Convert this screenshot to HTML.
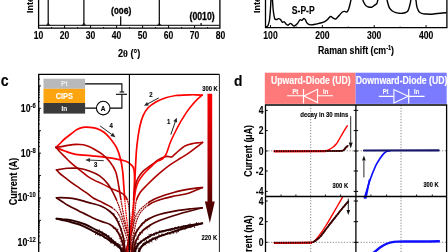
<!DOCTYPE html>
<html><head><meta charset="utf-8"><style>
html,body{margin:0;padding:0;background:#fff;overflow:hidden;}
svg{display:block;font-family:"Liberation Sans",Arial,sans-serif;}
</style></head><body>
<svg width="448" height="252" viewBox="0 0 448 252">
<rect width="448" height="252" fill="#fff"/>
<line x1="39.10" y1="25.30" x2="219.40" y2="25.30" stroke="#000" stroke-width="1.0" />
<line x1="48.20" y1="-2.00" x2="48.20" y2="25.60" stroke="#000" stroke-width="1.2" />
<path d="M46.00,25.4 Q47.80,25.1 48.20,23.2 Q48.60,25.1 50.40,25.4" fill="none" stroke="#000" stroke-width="0.8"/>
<line x1="83.90" y1="-2.00" x2="83.90" y2="25.60" stroke="#000" stroke-width="1.2" />
<path d="M81.70,25.4 Q83.50,25.1 83.90,23.2 Q84.30,25.1 86.10,25.4" fill="none" stroke="#000" stroke-width="0.8"/>
<line x1="120.70" y1="16.30" x2="120.70" y2="25.60" stroke="#000" stroke-width="1.2" />
<line x1="159.30" y1="-2.00" x2="159.30" y2="25.60" stroke="#000" stroke-width="1.2" />
<path d="M157.10,25.4 Q158.90,25.1 159.30,23.2 Q159.70,25.1 161.50,25.4" fill="none" stroke="#000" stroke-width="0.8"/>
<line x1="201.10" y1="23.00" x2="201.10" y2="25.60" stroke="#000" stroke-width="1.2" />
<path d="M38.6,-2 V28.1 H219.9 V-2" fill="none" stroke="#000" stroke-width="1.3"/>
<line x1="51.60" y1="28.10" x2="51.60" y2="27.00" stroke="#000" stroke-width="1.0" />
<line x1="64.60" y1="28.10" x2="64.60" y2="25.50" stroke="#000" stroke-width="1.0" />
<line x1="77.60" y1="28.10" x2="77.60" y2="27.00" stroke="#000" stroke-width="1.0" />
<line x1="90.60" y1="28.10" x2="90.60" y2="25.50" stroke="#000" stroke-width="1.0" />
<line x1="103.60" y1="28.10" x2="103.60" y2="27.00" stroke="#000" stroke-width="1.0" />
<line x1="116.60" y1="28.10" x2="116.60" y2="25.50" stroke="#000" stroke-width="1.0" />
<line x1="129.60" y1="28.10" x2="129.60" y2="27.00" stroke="#000" stroke-width="1.0" />
<line x1="142.60" y1="28.10" x2="142.60" y2="25.50" stroke="#000" stroke-width="1.0" />
<line x1="155.60" y1="28.10" x2="155.60" y2="27.00" stroke="#000" stroke-width="1.0" />
<line x1="168.60" y1="28.10" x2="168.60" y2="25.50" stroke="#000" stroke-width="1.0" />
<line x1="181.60" y1="28.10" x2="181.60" y2="27.00" stroke="#000" stroke-width="1.0" />
<line x1="194.60" y1="28.10" x2="194.60" y2="25.50" stroke="#000" stroke-width="1.0" />
<line x1="207.60" y1="28.10" x2="207.60" y2="27.00" stroke="#000" stroke-width="1.0" />
<text transform="translate(38.50,39.00) scale(0.86,1)" font-size="10.0" text-anchor="middle" font-weight="bold" fill="#000" stroke="#000" stroke-width="0.12" >10</text>
<text transform="translate(64.50,39.00) scale(0.86,1)" font-size="10.0" text-anchor="middle" font-weight="bold" fill="#000" stroke="#000" stroke-width="0.12" >20</text>
<text transform="translate(90.50,39.00) scale(0.86,1)" font-size="10.0" text-anchor="middle" font-weight="bold" fill="#000" stroke="#000" stroke-width="0.12" >30</text>
<text transform="translate(116.50,39.00) scale(0.86,1)" font-size="10.0" text-anchor="middle" font-weight="bold" fill="#000" stroke="#000" stroke-width="0.12" >40</text>
<text transform="translate(142.50,39.00) scale(0.86,1)" font-size="10.0" text-anchor="middle" font-weight="bold" fill="#000" stroke="#000" stroke-width="0.12" >50</text>
<text transform="translate(168.50,39.00) scale(0.86,1)" font-size="10.0" text-anchor="middle" font-weight="bold" fill="#000" stroke="#000" stroke-width="0.12" >60</text>
<text transform="translate(194.50,39.00) scale(0.86,1)" font-size="10.0" text-anchor="middle" font-weight="bold" fill="#000" stroke="#000" stroke-width="0.12" >70</text>
<text transform="translate(220.50,39.00) scale(0.86,1)" font-size="10.0" text-anchor="middle" font-weight="bold" fill="#000" stroke="#000" stroke-width="0.12" >80</text>
<text transform="translate(121.25,14.10) scale(0.88,1)" font-size="9.9" text-anchor="middle" font-weight="bold" fill="#000" stroke="#000" stroke-width="0.3" >(006)</text>
<text transform="translate(202.10,19.90) scale(0.86,1)" font-size="10.1" text-anchor="middle" font-weight="bold" fill="#000" stroke="#000" stroke-width="0.3" >(0010)</text>
<text transform="translate(129.10,56.70) scale(0.9,1)" font-size="10.2" text-anchor="middle" font-weight="bold" fill="#000" stroke="#000" stroke-width="0.12" >2<tspan font-family="Liberation Serif">θ</tspan> (°)</text>
<text transform="translate(32.60,12.90) rotate(-90) scale(0.95,1)" font-size="9.3" text-anchor="start" font-weight="bold" fill="#000" stroke="#000" stroke-width="0.12" >Intensity (a.u.)</text>
<path d="M266.20,26.80 C266.50,26.58 267.45,26.63 268.00,25.50 C268.55,24.37 269.08,22.92 269.50,20.00 C269.92,17.08 270.22,11.83 270.50,8.00 C270.78,4.17 270.92,-1.17 271.20,-3.00 C271.48,-4.83 271.87,-5.17 272.20,-3.00 C272.53,-0.83 272.78,6.42 273.20,10.00 C273.62,13.58 274.15,16.92 274.70,18.50 C275.25,20.08 275.87,19.48 276.50,19.50 C277.13,19.52 277.83,18.60 278.50,18.60 C279.17,18.60 279.87,18.90 280.50,19.50 C281.13,20.10 281.68,21.82 282.30,22.20 C282.92,22.58 283.58,21.50 284.20,21.80 C284.82,22.10 285.37,23.43 286.00,24.00 C286.63,24.57 287.25,25.30 288.00,25.20 C288.75,25.10 289.75,23.43 290.50,23.40 C291.25,23.37 291.87,24.57 292.50,25.00 C293.13,25.43 293.47,26.25 294.30,26.00 C295.13,25.75 296.55,24.55 297.50,23.50 C298.45,22.45 299.25,20.23 300.00,19.70 C300.75,19.17 301.35,20.52 302.00,20.30 C302.65,20.08 303.32,18.45 303.90,18.40 C304.48,18.35 304.98,19.25 305.50,20.00 C306.02,20.75 306.22,22.10 307.00,22.90 C307.78,23.70 308.70,24.60 310.20,24.80 C311.70,25.00 313.77,24.53 316.00,24.10 C318.23,23.67 321.68,22.97 323.60,22.20 C325.52,21.43 326.35,20.45 327.50,19.50 C328.65,18.55 329.58,16.75 330.50,16.50 C331.42,16.25 332.15,17.58 333.00,18.00 C333.85,18.42 334.77,19.20 335.60,19.00 C336.43,18.80 337.27,17.53 338.00,16.80 C338.73,16.07 339.28,15.40 340.00,14.60 C340.72,13.80 341.58,12.53 342.30,12.00 C343.02,11.47 343.55,11.40 344.30,11.40 C345.05,11.40 346.07,12.42 346.80,12.00 C347.53,11.58 348.12,10.40 348.70,8.90 C349.28,7.40 349.83,4.98 350.30,3.00 C350.77,1.02 351.30,-2.00 351.50,-3.00" fill="none" stroke="#000" stroke-width="1.4" stroke-linejoin="round" stroke-linecap="round" />
<path d="M362.20,-3.00 C362.37,-2.33 362.80,-0.13 363.20,1.00 C363.60,2.13 364.13,3.00 364.60,3.80 C365.07,4.60 365.37,5.27 366.00,5.80 C366.63,6.33 367.47,6.77 368.40,7.00 C369.33,7.23 370.67,7.42 371.60,7.20 C372.53,6.98 373.17,6.27 374.00,5.70 C374.83,5.13 376.00,4.58 376.60,3.80 C377.20,3.02 377.32,2.13 377.60,1.00 C377.88,-0.13 378.18,-2.33 378.30,-3.00" fill="none" stroke="#000" stroke-width="1.4" stroke-linejoin="round" stroke-linecap="round" />
<path d="M386.60,-3.00 C386.75,-2.17 387.05,0.23 387.50,2.00 C387.95,3.77 388.55,6.13 389.30,7.60 C390.05,9.07 390.92,9.95 392.00,10.80 C393.08,11.65 394.63,12.30 395.80,12.70 C396.97,13.10 397.93,13.10 399.00,13.20 C400.07,13.30 401.12,13.42 402.20,13.30 C403.28,13.18 404.55,12.92 405.50,12.50 C406.45,12.08 407.22,11.88 407.90,10.80 C408.58,9.72 409.15,7.55 409.60,6.00 C410.05,4.45 410.32,3.00 410.60,1.50 C410.88,0.00 411.18,-2.25 411.30,-3.00" fill="none" stroke="#000" stroke-width="1.4" stroke-linejoin="round" stroke-linecap="round" />
<path d="M415.50,-3.00 C415.62,-2.17 415.98,0.45 416.20,2.00 C416.42,3.55 416.50,5.00 416.80,6.30 C417.10,7.60 417.58,8.85 418.00,9.80 C418.42,10.75 418.55,11.35 419.30,12.00 C420.05,12.65 421.38,13.37 422.50,13.70 C423.62,14.03 424.75,13.92 426.00,14.00 C427.25,14.08 428.50,14.23 430.00,14.20 C431.50,14.17 433.28,13.95 435.00,13.80 C436.72,13.65 438.47,13.48 440.30,13.30 C442.13,13.12 445.05,12.80 446.00,12.70" fill="none" stroke="#000" stroke-width="1.4" stroke-linejoin="round" stroke-linecap="round" />
<path d="M265.5,-2 V27.7 H446.9 V-2" fill="none" stroke="#000" stroke-width="1.3"/>
<line x1="270.50" y1="27.70" x2="270.50" y2="25.10" stroke="#000" stroke-width="1.0" />
<line x1="296.43" y1="27.70" x2="296.43" y2="26.60" stroke="#000" stroke-width="1.0" />
<line x1="322.35" y1="27.70" x2="322.35" y2="25.10" stroke="#000" stroke-width="1.0" />
<line x1="348.27" y1="27.70" x2="348.27" y2="26.60" stroke="#000" stroke-width="1.0" />
<line x1="374.20" y1="27.70" x2="374.20" y2="25.10" stroke="#000" stroke-width="1.0" />
<line x1="400.12" y1="27.70" x2="400.12" y2="26.60" stroke="#000" stroke-width="1.0" />
<line x1="426.05" y1="27.70" x2="426.05" y2="25.10" stroke="#000" stroke-width="1.0" />
<text transform="translate(270.50,39.30) scale(0.86,1)" font-size="10.0" text-anchor="middle" font-weight="bold" fill="#000" stroke="#000" stroke-width="0.12" >100</text>
<text transform="translate(322.35,39.30) scale(0.86,1)" font-size="10.0" text-anchor="middle" font-weight="bold" fill="#000" stroke="#000" stroke-width="0.12" >200</text>
<text transform="translate(374.20,39.30) scale(0.86,1)" font-size="10.0" text-anchor="middle" font-weight="bold" fill="#000" stroke="#000" stroke-width="0.12" >300</text>
<text transform="translate(426.05,39.30) scale(0.86,1)" font-size="10.0" text-anchor="middle" font-weight="bold" fill="#000" stroke="#000" stroke-width="0.12" >400</text>
<text transform="translate(356.00,54.00) scale(0.86,1)" font-size="10.2" text-anchor="middle" font-weight="bold" fill="#000" stroke="#000" stroke-width="0.12" >Raman shift (cm<tspan font-size="6.5" dy="-3.6">-1</tspan><tspan dy="3.6">)</tspan></text>
<text transform="translate(303.25,14.00) scale(0.86,1)" font-size="10.0" text-anchor="middle" font-weight="bold" fill="#000" stroke="#000" stroke-width="0.12" >S-P-P</text>
<text transform="translate(260.30,12.90) rotate(-90) scale(0.95,1)" font-size="9.3" text-anchor="start" font-weight="bold" fill="#000" stroke="#000" stroke-width="0.12" >Intensity (a.u.)</text>
<text transform="translate(0.80,85.70) scale(0.86,1)" font-size="16.5" text-anchor="start" font-weight="bold" fill="#000" stroke="#000" stroke-width="0.12" >c</text>
<defs><clipPath id="cTop"><rect x="0" y="0" width="448" height="200"/></clipPath><clipPath id="cBot"><rect x="0" y="200" width="448" height="70"/></clipPath><clipPath id="cMid"><rect x="112" y="0" width="36" height="260"/></clipPath><clipPath id="cOut"><path d="M0,0 H112 V260 H0 Z M148,0 H448 V260 H148 Z"/></clipPath></defs>
<g clip-path="url(#cTop)"><path d="M56.00,147.40 C56.67,146.75 58.58,144.90 60.00,143.50 C61.42,142.10 62.67,140.58 64.50,139.00 C66.33,137.42 68.92,135.57 71.00,134.00 C73.08,132.43 75.00,130.70 77.00,129.60 C79.00,128.50 80.83,127.77 83.00,127.40 C85.17,127.03 87.67,127.20 90.00,127.40 C92.33,127.60 94.67,127.80 97.00,128.60 C99.33,129.40 101.83,130.60 104.00,132.20 C106.17,133.80 107.88,135.58 110.00,138.20 C112.12,140.82 114.92,144.30 116.70,147.90 C118.48,151.50 119.70,155.83 120.70,159.80 C121.70,163.77 122.18,167.33 122.70,171.70 C123.22,176.07 123.45,181.28 123.80,186.00 C124.15,190.72 124.40,195.17 124.80,200.00 C125.20,204.83 125.62,209.83 126.20,215.00 C126.78,220.17 127.58,226.00 128.30,231.00 C129.02,236.00 129.97,241.33 130.50,245.00 C131.03,248.67 131.33,251.67 131.50,253.00" fill="none" stroke="#ff0000" stroke-width="1.7" stroke-linejoin="round" stroke-linecap="round" /></g>
<g clip-path="url(#cBot)"><g clip-path="url(#cOut)"><path d="M56.00,147.40 C56.67,146.75 58.58,144.90 60.00,143.50 C61.42,142.10 62.67,140.58 64.50,139.00 C66.33,137.42 68.92,135.57 71.00,134.00 C73.08,132.43 75.00,130.70 77.00,129.60 C79.00,128.50 80.83,127.77 83.00,127.40 C85.17,127.03 87.67,127.20 90.00,127.40 C92.33,127.60 94.67,127.80 97.00,128.60 C99.33,129.40 101.83,130.60 104.00,132.20 C106.17,133.80 107.88,135.58 110.00,138.20 C112.12,140.82 114.92,144.30 116.70,147.90 C118.48,151.50 119.70,155.83 120.70,159.80 C121.70,163.77 122.18,167.33 122.70,171.70 C123.22,176.07 123.45,181.28 123.80,186.00 C124.15,190.72 124.40,195.17 124.80,200.00 C125.20,204.83 125.62,209.83 126.20,215.00 C126.78,220.17 127.58,226.00 128.30,231.00 C129.02,236.00 129.97,241.33 130.50,245.00 C131.03,248.67 131.33,251.67 131.50,253.00" fill="none" stroke="#ff0000" stroke-width="1.7" stroke-linejoin="round" stroke-linecap="round" /></g></g>
<g clip-path="url(#cBot)"><g clip-path="url(#cMid)"><path d="M56.00,147.40 C56.67,146.75 58.58,144.90 60.00,143.50 C61.42,142.10 62.67,140.58 64.50,139.00 C66.33,137.42 68.92,135.57 71.00,134.00 C73.08,132.43 75.00,130.70 77.00,129.60 C79.00,128.50 80.83,127.77 83.00,127.40 C85.17,127.03 87.67,127.20 90.00,127.40 C92.33,127.60 94.67,127.80 97.00,128.60 C99.33,129.40 101.83,130.60 104.00,132.20 C106.17,133.80 107.88,135.58 110.00,138.20 C112.12,140.82 114.92,144.30 116.70,147.90 C118.48,151.50 119.70,155.83 120.70,159.80 C121.70,163.77 122.18,167.33 122.70,171.70 C123.22,176.07 123.45,181.28 123.80,186.00 C124.15,190.72 124.40,195.17 124.80,200.00 C125.20,204.83 125.62,209.83 126.20,215.00 C126.78,220.17 127.58,226.00 128.30,231.00 C129.02,236.00 129.97,241.33 130.50,245.00 C131.03,248.67 131.33,251.67 131.50,253.00" fill="none" stroke="#ff0000" stroke-width="1.2" stroke-linejoin="round" stroke-linecap="butt" stroke-dasharray="1.8,0.6"/></g></g>
<g clip-path="url(#cTop)"><path d="M56.00,147.40 C57.45,148.00 61.40,149.85 64.70,151.00 C68.00,152.15 71.25,153.50 75.80,154.30 C80.35,155.10 87.97,155.42 92.00,155.80 C96.03,156.18 96.05,156.10 100.00,156.60 C103.95,157.10 111.37,158.02 115.70,158.80 C120.03,159.58 123.42,160.30 126.00,161.30 C128.58,162.30 129.88,163.48 131.20,164.80 C132.52,166.12 133.33,166.67 133.90,169.20 C134.47,171.73 134.55,175.70 134.60,180.00 C134.65,184.30 134.47,189.67 134.20,195.00 C133.93,200.33 133.53,206.00 133.00,212.00 C132.47,218.00 131.70,225.50 131.00,231.00 C130.30,236.50 129.33,241.33 128.80,245.00 C128.27,248.67 127.97,251.67 127.80,253.00" fill="none" stroke="#ff0000" stroke-width="1.7" stroke-linejoin="round" stroke-linecap="round" /></g>
<g clip-path="url(#cBot)"><g clip-path="url(#cOut)"><path d="M56.00,147.40 C57.45,148.00 61.40,149.85 64.70,151.00 C68.00,152.15 71.25,153.50 75.80,154.30 C80.35,155.10 87.97,155.42 92.00,155.80 C96.03,156.18 96.05,156.10 100.00,156.60 C103.95,157.10 111.37,158.02 115.70,158.80 C120.03,159.58 123.42,160.30 126.00,161.30 C128.58,162.30 129.88,163.48 131.20,164.80 C132.52,166.12 133.33,166.67 133.90,169.20 C134.47,171.73 134.55,175.70 134.60,180.00 C134.65,184.30 134.47,189.67 134.20,195.00 C133.93,200.33 133.53,206.00 133.00,212.00 C132.47,218.00 131.70,225.50 131.00,231.00 C130.30,236.50 129.33,241.33 128.80,245.00 C128.27,248.67 127.97,251.67 127.80,253.00" fill="none" stroke="#ff0000" stroke-width="1.7" stroke-linejoin="round" stroke-linecap="round" /></g></g>
<g clip-path="url(#cBot)"><g clip-path="url(#cMid)"><path d="M56.00,147.40 C57.45,148.00 61.40,149.85 64.70,151.00 C68.00,152.15 71.25,153.50 75.80,154.30 C80.35,155.10 87.97,155.42 92.00,155.80 C96.03,156.18 96.05,156.10 100.00,156.60 C103.95,157.10 111.37,158.02 115.70,158.80 C120.03,159.58 123.42,160.30 126.00,161.30 C128.58,162.30 129.88,163.48 131.20,164.80 C132.52,166.12 133.33,166.67 133.90,169.20 C134.47,171.73 134.55,175.70 134.60,180.00 C134.65,184.30 134.47,189.67 134.20,195.00 C133.93,200.33 133.53,206.00 133.00,212.00 C132.47,218.00 131.70,225.50 131.00,231.00 C130.30,236.50 129.33,241.33 128.80,245.00 C128.27,248.67 127.97,251.67 127.80,253.00" fill="none" stroke="#ff0000" stroke-width="1.2" stroke-linejoin="round" stroke-linecap="butt" stroke-dasharray="1.8,0.6"/></g></g>
<g clip-path="url(#cTop)"><path d="M202.20,95.10 C201.17,95.05 198.12,94.85 196.00,94.80 C193.88,94.75 192.17,94.72 189.50,94.80 C186.83,94.88 182.30,95.18 180.00,95.30 C177.70,95.42 178.07,95.08 175.70,95.50 C173.33,95.92 169.10,96.72 165.80,97.80 C162.50,98.88 158.88,100.30 155.90,102.00 C152.92,103.70 150.05,105.70 147.90,108.00 C145.75,110.30 144.32,112.85 143.00,115.80 C141.68,118.75 140.83,122.17 140.00,125.70 C139.17,129.23 138.58,132.95 138.00,137.00 C137.42,141.05 136.90,145.33 136.50,150.00 C136.10,154.67 135.88,160.00 135.60,165.00 C135.32,170.00 135.10,174.67 134.80,180.00 C134.50,185.33 134.20,191.67 133.80,197.00 C133.40,202.33 133.00,206.33 132.40,212.00 C131.80,217.67 131.03,225.50 130.20,231.00 C129.37,236.50 128.10,241.33 127.40,245.00 C126.70,248.67 126.23,251.67 126.00,253.00" fill="none" stroke="#ff0000" stroke-width="1.7" stroke-linejoin="round" stroke-linecap="round" /></g>
<g clip-path="url(#cBot)"><g clip-path="url(#cOut)"><path d="M202.20,95.10 C201.17,95.05 198.12,94.85 196.00,94.80 C193.88,94.75 192.17,94.72 189.50,94.80 C186.83,94.88 182.30,95.18 180.00,95.30 C177.70,95.42 178.07,95.08 175.70,95.50 C173.33,95.92 169.10,96.72 165.80,97.80 C162.50,98.88 158.88,100.30 155.90,102.00 C152.92,103.70 150.05,105.70 147.90,108.00 C145.75,110.30 144.32,112.85 143.00,115.80 C141.68,118.75 140.83,122.17 140.00,125.70 C139.17,129.23 138.58,132.95 138.00,137.00 C137.42,141.05 136.90,145.33 136.50,150.00 C136.10,154.67 135.88,160.00 135.60,165.00 C135.32,170.00 135.10,174.67 134.80,180.00 C134.50,185.33 134.20,191.67 133.80,197.00 C133.40,202.33 133.00,206.33 132.40,212.00 C131.80,217.67 131.03,225.50 130.20,231.00 C129.37,236.50 128.10,241.33 127.40,245.00 C126.70,248.67 126.23,251.67 126.00,253.00" fill="none" stroke="#ff0000" stroke-width="1.7" stroke-linejoin="round" stroke-linecap="round" /></g></g>
<g clip-path="url(#cBot)"><g clip-path="url(#cMid)"><path d="M202.20,95.10 C201.17,95.05 198.12,94.85 196.00,94.80 C193.88,94.75 192.17,94.72 189.50,94.80 C186.83,94.88 182.30,95.18 180.00,95.30 C177.70,95.42 178.07,95.08 175.70,95.50 C173.33,95.92 169.10,96.72 165.80,97.80 C162.50,98.88 158.88,100.30 155.90,102.00 C152.92,103.70 150.05,105.70 147.90,108.00 C145.75,110.30 144.32,112.85 143.00,115.80 C141.68,118.75 140.83,122.17 140.00,125.70 C139.17,129.23 138.58,132.95 138.00,137.00 C137.42,141.05 136.90,145.33 136.50,150.00 C136.10,154.67 135.88,160.00 135.60,165.00 C135.32,170.00 135.10,174.67 134.80,180.00 C134.50,185.33 134.20,191.67 133.80,197.00 C133.40,202.33 133.00,206.33 132.40,212.00 C131.80,217.67 131.03,225.50 130.20,231.00 C129.37,236.50 128.10,241.33 127.40,245.00 C126.70,248.67 126.23,251.67 126.00,253.00" fill="none" stroke="#ff0000" stroke-width="1.2" stroke-linejoin="round" stroke-linecap="butt" stroke-dasharray="1.8,0.6"/></g></g>
<g clip-path="url(#cTop)"><path d="M56.00,147.40 C56.92,147.27 58.73,147.07 61.50,146.60 C64.27,146.13 69.52,144.95 72.60,144.60 C75.68,144.25 77.77,144.37 80.00,144.50 C82.23,144.63 84.02,144.83 86.00,145.40 C87.98,145.97 89.27,146.48 91.90,147.90 C94.53,149.32 98.82,151.58 101.80,153.90 C104.78,156.22 107.48,158.83 109.80,161.80 C112.12,164.77 114.22,167.67 115.70,171.70 C117.18,175.73 117.82,181.28 118.70,186.00 C119.58,190.72 120.18,195.17 121.00,200.00 C121.82,204.83 122.57,209.83 123.60,215.00 C124.63,220.17 126.05,226.00 127.20,231.00 C128.35,236.00 129.70,241.33 130.50,245.00 C131.30,248.67 131.75,251.67 132.00,253.00" fill="none" stroke="#b00000" stroke-width="1.6" stroke-linejoin="round" stroke-linecap="round" /></g>
<g clip-path="url(#cBot)"><g clip-path="url(#cOut)"><path d="M56.00,147.40 C56.92,147.27 58.73,147.07 61.50,146.60 C64.27,146.13 69.52,144.95 72.60,144.60 C75.68,144.25 77.77,144.37 80.00,144.50 C82.23,144.63 84.02,144.83 86.00,145.40 C87.98,145.97 89.27,146.48 91.90,147.90 C94.53,149.32 98.82,151.58 101.80,153.90 C104.78,156.22 107.48,158.83 109.80,161.80 C112.12,164.77 114.22,167.67 115.70,171.70 C117.18,175.73 117.82,181.28 118.70,186.00 C119.58,190.72 120.18,195.17 121.00,200.00 C121.82,204.83 122.57,209.83 123.60,215.00 C124.63,220.17 126.05,226.00 127.20,231.00 C128.35,236.00 129.70,241.33 130.50,245.00 C131.30,248.67 131.75,251.67 132.00,253.00" fill="none" stroke="#b00000" stroke-width="1.6" stroke-linejoin="round" stroke-linecap="round" /></g></g>
<g clip-path="url(#cBot)"><g clip-path="url(#cMid)"><path d="M56.00,147.40 C56.92,147.27 58.73,147.07 61.50,146.60 C64.27,146.13 69.52,144.95 72.60,144.60 C75.68,144.25 77.77,144.37 80.00,144.50 C82.23,144.63 84.02,144.83 86.00,145.40 C87.98,145.97 89.27,146.48 91.90,147.90 C94.53,149.32 98.82,151.58 101.80,153.90 C104.78,156.22 107.48,158.83 109.80,161.80 C112.12,164.77 114.22,167.67 115.70,171.70 C117.18,175.73 117.82,181.28 118.70,186.00 C119.58,190.72 120.18,195.17 121.00,200.00 C121.82,204.83 122.57,209.83 123.60,215.00 C124.63,220.17 126.05,226.00 127.20,231.00 C128.35,236.00 129.70,241.33 130.50,245.00 C131.30,248.67 131.75,251.67 132.00,253.00" fill="none" stroke="#b00000" stroke-width="1.2" stroke-linejoin="round" stroke-linecap="butt" stroke-dasharray="1.8,0.6"/></g></g>
<g clip-path="url(#cTop)"><path d="M56.00,147.40 C56.67,148.17 58.55,150.47 60.00,152.00 C61.45,153.53 63.05,154.95 64.70,156.60 C66.35,158.25 67.37,159.63 69.90,161.90 C72.43,164.17 76.88,167.75 79.90,170.20 C82.92,172.65 85.48,174.87 88.00,176.60 C90.52,178.33 92.62,179.38 95.00,180.60 C97.38,181.82 99.42,182.52 102.30,183.90 C105.18,185.28 109.20,187.45 112.30,188.90 C115.40,190.35 118.70,191.33 120.90,192.60 C123.10,193.87 124.28,194.77 125.50,196.50 C126.72,198.23 127.48,199.92 128.20,203.00 C128.92,206.08 129.40,210.33 129.80,215.00 C130.20,219.67 130.37,226.00 130.60,231.00 C130.83,236.00 131.05,241.33 131.20,245.00 C131.35,248.67 131.45,251.67 131.50,253.00" fill="none" stroke="#b00000" stroke-width="1.6" stroke-linejoin="round" stroke-linecap="round" /></g>
<g clip-path="url(#cBot)"><g clip-path="url(#cOut)"><path d="M56.00,147.40 C56.67,148.17 58.55,150.47 60.00,152.00 C61.45,153.53 63.05,154.95 64.70,156.60 C66.35,158.25 67.37,159.63 69.90,161.90 C72.43,164.17 76.88,167.75 79.90,170.20 C82.92,172.65 85.48,174.87 88.00,176.60 C90.52,178.33 92.62,179.38 95.00,180.60 C97.38,181.82 99.42,182.52 102.30,183.90 C105.18,185.28 109.20,187.45 112.30,188.90 C115.40,190.35 118.70,191.33 120.90,192.60 C123.10,193.87 124.28,194.77 125.50,196.50 C126.72,198.23 127.48,199.92 128.20,203.00 C128.92,206.08 129.40,210.33 129.80,215.00 C130.20,219.67 130.37,226.00 130.60,231.00 C130.83,236.00 131.05,241.33 131.20,245.00 C131.35,248.67 131.45,251.67 131.50,253.00" fill="none" stroke="#b00000" stroke-width="1.6" stroke-linejoin="round" stroke-linecap="round" /></g></g>
<g clip-path="url(#cBot)"><g clip-path="url(#cMid)"><path d="M56.00,147.40 C56.67,148.17 58.55,150.47 60.00,152.00 C61.45,153.53 63.05,154.95 64.70,156.60 C66.35,158.25 67.37,159.63 69.90,161.90 C72.43,164.17 76.88,167.75 79.90,170.20 C82.92,172.65 85.48,174.87 88.00,176.60 C90.52,178.33 92.62,179.38 95.00,180.60 C97.38,181.82 99.42,182.52 102.30,183.90 C105.18,185.28 109.20,187.45 112.30,188.90 C115.40,190.35 118.70,191.33 120.90,192.60 C123.10,193.87 124.28,194.77 125.50,196.50 C126.72,198.23 127.48,199.92 128.20,203.00 C128.92,206.08 129.40,210.33 129.80,215.00 C130.20,219.67 130.37,226.00 130.60,231.00 C130.83,236.00 131.05,241.33 131.20,245.00 C131.35,248.67 131.45,251.67 131.50,253.00" fill="none" stroke="#b00000" stroke-width="1.2" stroke-linejoin="round" stroke-linecap="butt" stroke-dasharray="1.8,0.6"/></g></g>
<g clip-path="url(#cTop)"><path d="M202.60,142.40 C201.67,142.48 198.62,142.72 197.00,142.90 C195.38,143.08 194.83,143.03 192.90,143.50 C190.97,143.97 187.37,144.80 185.40,145.70 C183.43,146.60 182.35,147.93 181.10,148.90 C179.85,149.87 179.15,150.43 177.90,151.50 C176.65,152.57 174.67,154.38 173.60,155.30 C172.53,156.22 172.57,156.82 171.50,157.00 C170.43,157.18 168.63,156.32 167.20,156.40 C165.77,156.48 164.33,156.97 162.90,157.50 C161.47,158.03 160.03,158.72 158.60,159.60 C157.17,160.48 155.73,161.73 154.30,162.80 C152.87,163.87 151.80,164.65 150.00,166.00 C148.20,167.35 145.47,168.92 143.50,170.90 C141.53,172.88 139.52,175.57 138.20,177.90 C136.88,180.23 136.23,182.22 135.60,184.90 C134.97,187.58 134.77,189.48 134.40,194.00 C134.03,198.52 133.93,205.83 133.40,212.00 C132.87,218.17 132.13,225.50 131.20,231.00 C130.27,236.50 128.60,241.33 127.80,245.00 C127.00,248.67 126.63,251.67 126.40,253.00" fill="none" stroke="#b00000" stroke-width="1.6" stroke-linejoin="round" stroke-linecap="round" /></g>
<g clip-path="url(#cBot)"><g clip-path="url(#cOut)"><path d="M202.60,142.40 C201.67,142.48 198.62,142.72 197.00,142.90 C195.38,143.08 194.83,143.03 192.90,143.50 C190.97,143.97 187.37,144.80 185.40,145.70 C183.43,146.60 182.35,147.93 181.10,148.90 C179.85,149.87 179.15,150.43 177.90,151.50 C176.65,152.57 174.67,154.38 173.60,155.30 C172.53,156.22 172.57,156.82 171.50,157.00 C170.43,157.18 168.63,156.32 167.20,156.40 C165.77,156.48 164.33,156.97 162.90,157.50 C161.47,158.03 160.03,158.72 158.60,159.60 C157.17,160.48 155.73,161.73 154.30,162.80 C152.87,163.87 151.80,164.65 150.00,166.00 C148.20,167.35 145.47,168.92 143.50,170.90 C141.53,172.88 139.52,175.57 138.20,177.90 C136.88,180.23 136.23,182.22 135.60,184.90 C134.97,187.58 134.77,189.48 134.40,194.00 C134.03,198.52 133.93,205.83 133.40,212.00 C132.87,218.17 132.13,225.50 131.20,231.00 C130.27,236.50 128.60,241.33 127.80,245.00 C127.00,248.67 126.63,251.67 126.40,253.00" fill="none" stroke="#b00000" stroke-width="1.6" stroke-linejoin="round" stroke-linecap="round" /></g></g>
<g clip-path="url(#cBot)"><g clip-path="url(#cMid)"><path d="M202.60,142.40 C201.67,142.48 198.62,142.72 197.00,142.90 C195.38,143.08 194.83,143.03 192.90,143.50 C190.97,143.97 187.37,144.80 185.40,145.70 C183.43,146.60 182.35,147.93 181.10,148.90 C179.85,149.87 179.15,150.43 177.90,151.50 C176.65,152.57 174.67,154.38 173.60,155.30 C172.53,156.22 172.57,156.82 171.50,157.00 C170.43,157.18 168.63,156.32 167.20,156.40 C165.77,156.48 164.33,156.97 162.90,157.50 C161.47,158.03 160.03,158.72 158.60,159.60 C157.17,160.48 155.73,161.73 154.30,162.80 C152.87,163.87 151.80,164.65 150.00,166.00 C148.20,167.35 145.47,168.92 143.50,170.90 C141.53,172.88 139.52,175.57 138.20,177.90 C136.88,180.23 136.23,182.22 135.60,184.90 C134.97,187.58 134.77,189.48 134.40,194.00 C134.03,198.52 133.93,205.83 133.40,212.00 C132.87,218.17 132.13,225.50 131.20,231.00 C130.27,236.50 128.60,241.33 127.80,245.00 C127.00,248.67 126.63,251.67 126.40,253.00" fill="none" stroke="#b00000" stroke-width="1.2" stroke-linejoin="round" stroke-linecap="butt" stroke-dasharray="1.8,0.6"/></g></g>
<g clip-path="url(#cTop)"><path d="M202.60,142.40 C201.70,143.12 199.53,144.90 197.20,146.70 C194.87,148.50 191.47,151.23 188.60,153.20 C185.73,155.17 182.85,156.72 180.00,158.50 C177.15,160.28 174.35,161.93 171.50,163.90 C168.65,165.87 165.77,167.98 162.90,170.30 C160.03,172.62 156.95,175.35 154.30,177.80 C151.65,180.25 149.30,182.63 147.00,185.00 C144.70,187.37 142.25,189.50 140.50,192.00 C138.75,194.50 137.48,196.33 136.50,200.00 C135.52,203.67 135.32,208.83 134.60,214.00 C133.88,219.17 133.17,225.83 132.20,231.00 C131.23,236.17 129.57,241.33 128.80,245.00 C128.03,248.67 127.80,251.67 127.60,253.00" fill="none" stroke="#b00000" stroke-width="1.6" stroke-linejoin="round" stroke-linecap="round" /></g>
<g clip-path="url(#cBot)"><g clip-path="url(#cOut)"><path d="M202.60,142.40 C201.70,143.12 199.53,144.90 197.20,146.70 C194.87,148.50 191.47,151.23 188.60,153.20 C185.73,155.17 182.85,156.72 180.00,158.50 C177.15,160.28 174.35,161.93 171.50,163.90 C168.65,165.87 165.77,167.98 162.90,170.30 C160.03,172.62 156.95,175.35 154.30,177.80 C151.65,180.25 149.30,182.63 147.00,185.00 C144.70,187.37 142.25,189.50 140.50,192.00 C138.75,194.50 137.48,196.33 136.50,200.00 C135.52,203.67 135.32,208.83 134.60,214.00 C133.88,219.17 133.17,225.83 132.20,231.00 C131.23,236.17 129.57,241.33 128.80,245.00 C128.03,248.67 127.80,251.67 127.60,253.00" fill="none" stroke="#b00000" stroke-width="1.6" stroke-linejoin="round" stroke-linecap="round" /></g></g>
<g clip-path="url(#cBot)"><g clip-path="url(#cMid)"><path d="M202.60,142.40 C201.70,143.12 199.53,144.90 197.20,146.70 C194.87,148.50 191.47,151.23 188.60,153.20 C185.73,155.17 182.85,156.72 180.00,158.50 C177.15,160.28 174.35,161.93 171.50,163.90 C168.65,165.87 165.77,167.98 162.90,170.30 C160.03,172.62 156.95,175.35 154.30,177.80 C151.65,180.25 149.30,182.63 147.00,185.00 C144.70,187.37 142.25,189.50 140.50,192.00 C138.75,194.50 137.48,196.33 136.50,200.00 C135.52,203.67 135.32,208.83 134.60,214.00 C133.88,219.17 133.17,225.83 132.20,231.00 C131.23,236.17 129.57,241.33 128.80,245.00 C128.03,248.67 127.80,251.67 127.60,253.00" fill="none" stroke="#b00000" stroke-width="1.2" stroke-linejoin="round" stroke-linecap="butt" stroke-dasharray="1.8,0.6"/></g></g>
<g clip-path="url(#cTop)"><path d="M202.20,95.10 C201.42,95.77 199.35,97.25 197.50,99.10 C195.65,100.95 192.97,103.95 191.10,106.20 C189.23,108.45 187.75,110.48 186.30,112.60 C184.85,114.72 183.45,117.18 182.40,118.90 C181.35,120.62 181.12,120.88 180.00,122.90 C178.88,124.92 177.28,127.82 175.70,131.00 C174.12,134.18 172.10,138.13 170.50,142.00 C168.90,145.87 167.43,151.38 166.10,154.20 C164.77,157.02 163.93,157.73 162.50,158.90 C161.07,160.07 159.17,160.13 157.50,161.20 C155.83,162.27 154.08,163.90 152.50,165.30 C150.92,166.70 149.67,167.90 148.00,169.60 C146.33,171.30 144.08,173.52 142.50,175.50 C140.92,177.48 139.62,179.25 138.50,181.50 C137.38,183.75 136.52,185.92 135.80,189.00 C135.08,192.08 134.70,195.67 134.20,200.00 C133.70,204.33 133.40,209.83 132.80,215.00 C132.20,220.17 131.40,226.00 130.60,231.00 C129.80,236.00 128.60,241.33 128.00,245.00 C127.40,248.67 127.17,251.67 127.00,253.00" fill="none" stroke="#ff0000" stroke-width="1.6" stroke-linejoin="round" stroke-linecap="round" /></g>
<g clip-path="url(#cBot)"><g clip-path="url(#cOut)"><path d="M202.20,95.10 C201.42,95.77 199.35,97.25 197.50,99.10 C195.65,100.95 192.97,103.95 191.10,106.20 C189.23,108.45 187.75,110.48 186.30,112.60 C184.85,114.72 183.45,117.18 182.40,118.90 C181.35,120.62 181.12,120.88 180.00,122.90 C178.88,124.92 177.28,127.82 175.70,131.00 C174.12,134.18 172.10,138.13 170.50,142.00 C168.90,145.87 167.43,151.38 166.10,154.20 C164.77,157.02 163.93,157.73 162.50,158.90 C161.07,160.07 159.17,160.13 157.50,161.20 C155.83,162.27 154.08,163.90 152.50,165.30 C150.92,166.70 149.67,167.90 148.00,169.60 C146.33,171.30 144.08,173.52 142.50,175.50 C140.92,177.48 139.62,179.25 138.50,181.50 C137.38,183.75 136.52,185.92 135.80,189.00 C135.08,192.08 134.70,195.67 134.20,200.00 C133.70,204.33 133.40,209.83 132.80,215.00 C132.20,220.17 131.40,226.00 130.60,231.00 C129.80,236.00 128.60,241.33 128.00,245.00 C127.40,248.67 127.17,251.67 127.00,253.00" fill="none" stroke="#ff0000" stroke-width="1.6" stroke-linejoin="round" stroke-linecap="round" /></g></g>
<g clip-path="url(#cBot)"><g clip-path="url(#cMid)"><path d="M202.20,95.10 C201.42,95.77 199.35,97.25 197.50,99.10 C195.65,100.95 192.97,103.95 191.10,106.20 C189.23,108.45 187.75,110.48 186.30,112.60 C184.85,114.72 183.45,117.18 182.40,118.90 C181.35,120.62 181.12,120.88 180.00,122.90 C178.88,124.92 177.28,127.82 175.70,131.00 C174.12,134.18 172.10,138.13 170.50,142.00 C168.90,145.87 167.43,151.38 166.10,154.20 C164.77,157.02 163.93,157.73 162.50,158.90 C161.07,160.07 159.17,160.13 157.50,161.20 C155.83,162.27 154.08,163.90 152.50,165.30 C150.92,166.70 149.67,167.90 148.00,169.60 C146.33,171.30 144.08,173.52 142.50,175.50 C140.92,177.48 139.62,179.25 138.50,181.50 C137.38,183.75 136.52,185.92 135.80,189.00 C135.08,192.08 134.70,195.67 134.20,200.00 C133.70,204.33 133.40,209.83 132.80,215.00 C132.20,220.17 131.40,226.00 130.60,231.00 C129.80,236.00 128.60,241.33 128.00,245.00 C127.40,248.67 127.17,251.67 127.00,253.00" fill="none" stroke="#ff0000" stroke-width="1.2" stroke-linejoin="round" stroke-linecap="butt" stroke-dasharray="1.8,0.6"/></g></g>
<g clip-path="url(#cTop)"><path d="M56.50,169.80 C57.08,169.73 58.17,169.65 60.00,169.40 C61.83,169.15 64.43,168.48 67.50,168.30 C70.57,168.12 74.77,167.87 78.40,168.30 C82.03,168.73 85.75,169.65 89.30,170.90 C92.85,172.15 96.63,173.65 99.70,175.80 C102.77,177.95 105.38,180.82 107.70,183.80 C110.02,186.78 111.80,190.17 113.60,193.70 C115.40,197.23 117.02,200.95 118.50,205.00 C119.98,209.05 121.17,213.67 122.50,218.00 C123.83,222.33 125.25,226.67 126.50,231.00 C127.75,235.33 129.22,240.33 130.00,244.00 C130.78,247.67 131.00,251.50 131.20,253.00" fill="none" stroke="#900000" stroke-width="1.6" stroke-linejoin="round" stroke-linecap="round" /></g>
<g clip-path="url(#cBot)"><g clip-path="url(#cOut)"><path d="M56.50,169.80 C57.08,169.73 58.17,169.65 60.00,169.40 C61.83,169.15 64.43,168.48 67.50,168.30 C70.57,168.12 74.77,167.87 78.40,168.30 C82.03,168.73 85.75,169.65 89.30,170.90 C92.85,172.15 96.63,173.65 99.70,175.80 C102.77,177.95 105.38,180.82 107.70,183.80 C110.02,186.78 111.80,190.17 113.60,193.70 C115.40,197.23 117.02,200.95 118.50,205.00 C119.98,209.05 121.17,213.67 122.50,218.00 C123.83,222.33 125.25,226.67 126.50,231.00 C127.75,235.33 129.22,240.33 130.00,244.00 C130.78,247.67 131.00,251.50 131.20,253.00" fill="none" stroke="#900000" stroke-width="1.6" stroke-linejoin="round" stroke-linecap="round" /></g></g>
<g clip-path="url(#cBot)"><g clip-path="url(#cMid)"><path d="M56.50,169.80 C57.08,169.73 58.17,169.65 60.00,169.40 C61.83,169.15 64.43,168.48 67.50,168.30 C70.57,168.12 74.77,167.87 78.40,168.30 C82.03,168.73 85.75,169.65 89.30,170.90 C92.85,172.15 96.63,173.65 99.70,175.80 C102.77,177.95 105.38,180.82 107.70,183.80 C110.02,186.78 111.80,190.17 113.60,193.70 C115.40,197.23 117.02,200.95 118.50,205.00 C119.98,209.05 121.17,213.67 122.50,218.00 C123.83,222.33 125.25,226.67 126.50,231.00 C127.75,235.33 129.22,240.33 130.00,244.00 C130.78,247.67 131.00,251.50 131.20,253.00" fill="none" stroke="#900000" stroke-width="1.2" stroke-linejoin="round" stroke-linecap="butt" stroke-dasharray="1.8,0.6"/></g></g>
<g clip-path="url(#cTop)"><path d="M56.50,169.80 C57.08,170.43 58.10,171.93 60.00,173.60 C61.90,175.27 65.25,177.78 67.90,179.80 C70.55,181.82 72.92,183.60 75.90,185.70 C78.88,187.80 82.85,190.32 85.80,192.40 C88.75,194.48 90.85,196.53 93.60,198.20 C96.35,199.87 99.82,201.17 102.30,202.40 C104.78,203.63 106.60,204.52 108.50,205.60 C110.40,206.68 112.15,207.67 113.70,208.90 C115.25,210.13 116.55,211.15 117.80,213.00 C119.05,214.85 120.07,217.00 121.20,220.00 C122.33,223.00 123.47,227.17 124.60,231.00 C125.73,234.83 127.17,239.33 128.00,243.00 C128.83,246.67 129.33,251.33 129.60,253.00" fill="none" stroke="#900000" stroke-width="1.6" stroke-linejoin="round" stroke-linecap="round" /></g>
<g clip-path="url(#cBot)"><g clip-path="url(#cOut)"><path d="M56.50,169.80 C57.08,170.43 58.10,171.93 60.00,173.60 C61.90,175.27 65.25,177.78 67.90,179.80 C70.55,181.82 72.92,183.60 75.90,185.70 C78.88,187.80 82.85,190.32 85.80,192.40 C88.75,194.48 90.85,196.53 93.60,198.20 C96.35,199.87 99.82,201.17 102.30,202.40 C104.78,203.63 106.60,204.52 108.50,205.60 C110.40,206.68 112.15,207.67 113.70,208.90 C115.25,210.13 116.55,211.15 117.80,213.00 C119.05,214.85 120.07,217.00 121.20,220.00 C122.33,223.00 123.47,227.17 124.60,231.00 C125.73,234.83 127.17,239.33 128.00,243.00 C128.83,246.67 129.33,251.33 129.60,253.00" fill="none" stroke="#900000" stroke-width="1.6" stroke-linejoin="round" stroke-linecap="round" /></g></g>
<g clip-path="url(#cBot)"><g clip-path="url(#cMid)"><path d="M56.50,169.80 C57.08,170.43 58.10,171.93 60.00,173.60 C61.90,175.27 65.25,177.78 67.90,179.80 C70.55,181.82 72.92,183.60 75.90,185.70 C78.88,187.80 82.85,190.32 85.80,192.40 C88.75,194.48 90.85,196.53 93.60,198.20 C96.35,199.87 99.82,201.17 102.30,202.40 C104.78,203.63 106.60,204.52 108.50,205.60 C110.40,206.68 112.15,207.67 113.70,208.90 C115.25,210.13 116.55,211.15 117.80,213.00 C119.05,214.85 120.07,217.00 121.20,220.00 C122.33,223.00 123.47,227.17 124.60,231.00 C125.73,234.83 127.17,239.33 128.00,243.00 C128.83,246.67 129.33,251.33 129.60,253.00" fill="none" stroke="#900000" stroke-width="1.2" stroke-linejoin="round" stroke-linecap="butt" stroke-dasharray="1.8,0.6"/></g></g>
<g clip-path="url(#cTop)"><path d="M202.40,187.60 C201.33,187.68 198.23,187.85 196.00,188.10 C193.77,188.35 191.50,188.68 189.00,189.10 C186.50,189.52 183.43,190.08 181.00,190.60 C178.57,191.12 177.07,191.47 174.40,192.20 C171.73,192.93 167.82,194.07 165.00,195.00 C162.18,195.93 160.00,196.72 157.50,197.80 C155.00,198.88 152.18,200.18 150.00,201.50 C147.82,202.82 146.23,204.12 144.40,205.70 C142.57,207.28 140.53,208.95 139.00,211.00 C137.47,213.05 136.20,215.17 135.20,218.00 C134.20,220.83 133.87,224.67 133.00,228.00 C132.13,231.33 131.03,234.83 130.00,238.00 C128.97,241.17 127.50,244.50 126.80,247.00 C126.10,249.50 125.97,252.00 125.80,253.00" fill="none" stroke="#900000" stroke-width="1.6" stroke-linejoin="round" stroke-linecap="round" /></g>
<g clip-path="url(#cBot)"><g clip-path="url(#cOut)"><path d="M202.40,187.60 C201.33,187.68 198.23,187.85 196.00,188.10 C193.77,188.35 191.50,188.68 189.00,189.10 C186.50,189.52 183.43,190.08 181.00,190.60 C178.57,191.12 177.07,191.47 174.40,192.20 C171.73,192.93 167.82,194.07 165.00,195.00 C162.18,195.93 160.00,196.72 157.50,197.80 C155.00,198.88 152.18,200.18 150.00,201.50 C147.82,202.82 146.23,204.12 144.40,205.70 C142.57,207.28 140.53,208.95 139.00,211.00 C137.47,213.05 136.20,215.17 135.20,218.00 C134.20,220.83 133.87,224.67 133.00,228.00 C132.13,231.33 131.03,234.83 130.00,238.00 C128.97,241.17 127.50,244.50 126.80,247.00 C126.10,249.50 125.97,252.00 125.80,253.00" fill="none" stroke="#900000" stroke-width="1.6" stroke-linejoin="round" stroke-linecap="round" /></g></g>
<g clip-path="url(#cBot)"><g clip-path="url(#cMid)"><path d="M202.40,187.60 C201.33,187.68 198.23,187.85 196.00,188.10 C193.77,188.35 191.50,188.68 189.00,189.10 C186.50,189.52 183.43,190.08 181.00,190.60 C178.57,191.12 177.07,191.47 174.40,192.20 C171.73,192.93 167.82,194.07 165.00,195.00 C162.18,195.93 160.00,196.72 157.50,197.80 C155.00,198.88 152.18,200.18 150.00,201.50 C147.82,202.82 146.23,204.12 144.40,205.70 C142.57,207.28 140.53,208.95 139.00,211.00 C137.47,213.05 136.20,215.17 135.20,218.00 C134.20,220.83 133.87,224.67 133.00,228.00 C132.13,231.33 131.03,234.83 130.00,238.00 C128.97,241.17 127.50,244.50 126.80,247.00 C126.10,249.50 125.97,252.00 125.80,253.00" fill="none" stroke="#900000" stroke-width="1.2" stroke-linejoin="round" stroke-linecap="butt" stroke-dasharray="1.8,0.6"/></g></g>
<g clip-path="url(#cTop)"><path d="M202.40,187.60 C200.83,188.23 195.67,190.37 193.00,191.40 C190.33,192.43 188.73,193.17 186.40,193.80 C184.07,194.43 181.42,194.73 179.00,195.20 C176.58,195.67 174.40,196.07 171.90,196.60 C169.40,197.13 166.40,197.73 164.00,198.40 C161.60,199.07 159.83,199.67 157.50,200.60 C155.17,201.53 152.18,202.72 150.00,204.00 C147.82,205.28 146.15,206.63 144.40,208.30 C142.65,209.97 140.87,211.72 139.50,214.00 C138.13,216.28 137.12,219.00 136.20,222.00 C135.28,225.00 134.87,228.83 134.00,232.00 C133.13,235.17 131.93,238.17 131.00,241.00 C130.07,243.83 128.93,247.00 128.40,249.00 C127.87,251.00 127.90,252.33 127.80,253.00" fill="none" stroke="#900000" stroke-width="1.6" stroke-linejoin="round" stroke-linecap="round" /></g>
<g clip-path="url(#cBot)"><g clip-path="url(#cOut)"><path d="M202.40,187.60 C200.83,188.23 195.67,190.37 193.00,191.40 C190.33,192.43 188.73,193.17 186.40,193.80 C184.07,194.43 181.42,194.73 179.00,195.20 C176.58,195.67 174.40,196.07 171.90,196.60 C169.40,197.13 166.40,197.73 164.00,198.40 C161.60,199.07 159.83,199.67 157.50,200.60 C155.17,201.53 152.18,202.72 150.00,204.00 C147.82,205.28 146.15,206.63 144.40,208.30 C142.65,209.97 140.87,211.72 139.50,214.00 C138.13,216.28 137.12,219.00 136.20,222.00 C135.28,225.00 134.87,228.83 134.00,232.00 C133.13,235.17 131.93,238.17 131.00,241.00 C130.07,243.83 128.93,247.00 128.40,249.00 C127.87,251.00 127.90,252.33 127.80,253.00" fill="none" stroke="#900000" stroke-width="1.6" stroke-linejoin="round" stroke-linecap="round" /></g></g>
<g clip-path="url(#cBot)"><g clip-path="url(#cMid)"><path d="M202.40,187.60 C200.83,188.23 195.67,190.37 193.00,191.40 C190.33,192.43 188.73,193.17 186.40,193.80 C184.07,194.43 181.42,194.73 179.00,195.20 C176.58,195.67 174.40,196.07 171.90,196.60 C169.40,197.13 166.40,197.73 164.00,198.40 C161.60,199.07 159.83,199.67 157.50,200.60 C155.17,201.53 152.18,202.72 150.00,204.00 C147.82,205.28 146.15,206.63 144.40,208.30 C142.65,209.97 140.87,211.72 139.50,214.00 C138.13,216.28 137.12,219.00 136.20,222.00 C135.28,225.00 134.87,228.83 134.00,232.00 C133.13,235.17 131.93,238.17 131.00,241.00 C130.07,243.83 128.93,247.00 128.40,249.00 C127.87,251.00 127.90,252.33 127.80,253.00" fill="none" stroke="#900000" stroke-width="1.2" stroke-linejoin="round" stroke-linecap="butt" stroke-dasharray="1.8,0.6"/></g></g>
<path d="M56.50,197.80 C57.08,197.77 58.47,197.60 60.00,197.60 C61.53,197.60 63.00,197.55 65.70,197.80 C68.40,198.05 72.48,198.33 76.20,199.10 C79.92,199.87 83.88,201.25 88.00,202.40 C92.12,203.55 97.33,204.57 100.90,206.00 C104.47,207.43 106.97,209.08 109.40,211.00 C111.83,212.92 113.70,214.83 115.50,217.50 C117.30,220.17 118.85,223.42 120.20,227.00 C121.55,230.58 122.77,234.67 123.60,239.00 C124.43,243.33 124.93,250.67 125.20,253.00" fill="none" stroke="#520000" stroke-width="1.7" stroke-linejoin="round" stroke-linecap="round" />
<path d="M112.28,213.15 l0.56,0.25 M113.19,213.51 l-0.06,-0.19 M113.81,214.15 l-0.01,-0.66 M113.93,215.22 l0.75,-0.56 M114.50,215.91 l-0.59,-0.49 M115.32,216.47 l-0.23,0.58 M115.40,217.57 l0.19,0.59 M116.65,217.94 l-0.69,-0.24 M117.04,218.89 l0.74,-0.20 M116.61,220.29 l0.63,0.10 M117.34,221.06 l0.26,0.06 M118.65,221.61 l0.89,-0.27 M118.22,222.99 l0.15,-0.16 M118.80,223.93 l0.10,-0.17 M118.93,225.07 l-0.41,-0.21 M119.68,225.98 l-0.05,0.31 M119.86,227.13 l0.45,0.38 M121.18,227.89 l0.17,0.20 M121.52,229.03 l0.02,-0.32 M121.12,230.43 l-0.57,0.06 M121.16,231.69 l0.40,0.13 M121.95,232.76 l-0.17,-0.02 M121.91,234.07 l-0.96,-0.00 M122.50,235.24 l0.96,0.12 M122.83,236.48 l-1.08,0.17 M123.68,237.64 l0.25,0.08 M124.35,238.87 l0.08,-0.12 M124.45,240.29 l0.98,0.10 M124.65,241.82 l0.56,-0.02 M123.67,243.56 l0.93,-0.00 M124.37,245.14 l-0.85,0.08 M124.03,246.81 l0.49,-0.01 M124.99,248.29 l-0.86,0.10 M125.45,249.72 l0.72,-0.04 M125.44,251.02 l0.03,0.03 M125.49,252.12 l1.10,-0.01" stroke="#520000" stroke-width="0.8" stroke-linecap="round" fill="none"/>
<path d="M56.50,197.80 C57.42,198.42 60.03,200.20 62.00,201.50 C63.97,202.80 65.50,204.03 68.30,205.60 C71.10,207.17 74.87,208.93 78.80,210.90 C82.73,212.87 88.03,215.62 91.90,217.40 C95.77,219.18 98.98,220.43 102.00,221.60 C105.02,222.77 107.67,223.08 110.00,224.40 C112.33,225.72 114.23,227.33 116.00,229.50 C117.77,231.67 119.40,234.82 120.60,237.40 C121.80,239.98 122.60,242.40 123.20,245.00 C123.80,247.60 124.03,251.67 124.20,253.00" fill="none" stroke="#520000" stroke-width="1.7" stroke-linejoin="round" stroke-linecap="round" />
<path d="M112.74,225.98 l-0.09,0.80 M113.01,226.86 l-0.02,0.21 M113.60,227.35 l0.69,0.66 M114.04,228.00 l-0.60,0.47 M115.05,228.15 l0.17,-0.59 M115.30,229.00 l0.75,-0.61 M116.37,229.21 l0.60,-0.21 M117.11,229.76 l0.91,-0.44 M117.57,230.56 l0.26,-0.57 M117.04,231.99 l-0.22,-0.40 M118.38,232.27 l0.30,-0.14 M119.04,233.00 l-0.68,0.54 M119.02,234.10 l0.03,-0.42 M119.98,234.68 l0.31,-0.23 M119.36,236.02 l0.68,-0.46 M119.57,236.92 l-0.06,-0.33 M120.54,237.43 l0.97,0.04 M120.24,238.47 l-0.75,0.18 M121.63,238.79 l0.28,-0.27 M121.17,239.84 l-0.07,0.23 M122.12,240.35 l0.59,0.24 M121.39,241.44 l-0.75,0.22 M121.88,242.09 l-0.51,-0.17 M122.57,242.71 l0.31,-0.28 M123.55,243.27 l0.48,-0.13 M122.71,244.30 l-0.99,-0.02 M122.52,245.14 l-1.07,0.22 M123.58,245.78 l0.62,-0.09 M124.00,246.63 l0.66,0.05 M123.01,247.70 l-0.76,0.00 M123.52,248.58 l-0.67,-0.09 M123.61,249.50 l-0.91,0.07 M123.55,250.39 l0.05,-0.06 M123.56,251.22 l0.37,0.07 M123.34,251.98 l0.23,-0.01 M123.44,252.60 l-0.50,-0.07" stroke="#520000" stroke-width="0.8" stroke-linecap="round" fill="none"/>
<path d="M202.20,207.80 C200.17,207.97 193.95,208.37 190.00,208.80 C186.05,209.23 182.17,209.82 178.50,210.40 C174.83,210.98 171.07,211.67 168.00,212.30 C164.93,212.93 162.77,213.38 160.10,214.20 C157.43,215.02 154.62,215.93 152.00,217.20 C149.38,218.47 146.65,219.92 144.40,221.80 C142.15,223.68 140.17,226.05 138.50,228.50 C136.83,230.95 135.35,233.92 134.40,236.50 C133.45,239.08 133.17,241.25 132.80,244.00 C132.43,246.75 132.30,251.50 132.20,253.00" fill="none" stroke="#520000" stroke-width="1.7" stroke-linejoin="round" stroke-linecap="round" />
<path d="M149.91,218.92 l0.37,-0.79 M148.60,218.40 l0.39,-0.63 M147.67,218.61 l-0.18,0.30 M147.25,219.67 l0.45,0.93 M146.11,219.59 l-0.19,-0.04 M145.39,220.16 l0.09,-0.66 M144.76,220.84 l0.40,0.44 M144.62,222.05 l0.38,-0.14 M144.00,222.66 l0.12,0.61 M142.62,222.52 l0.23,0.08 M142.35,223.52 l-0.66,0.13 M141.33,223.82 l-0.00,-0.04 M141.20,224.91 l0.82,0.10 M141.04,225.94 l0.87,-0.41 M140.50,226.65 l0.05,-0.30 M139.46,226.99 l0.32,-0.01 M138.94,227.72 l-0.52,0.51 M138.42,228.45 l0.47,0.29 M137.64,229.02 l-0.01,-0.06 M137.17,229.81 l-0.80,0.07 M136.90,230.73 l-0.01,-0.00 M136.34,231.49 l0.09,-0.02 M136.21,232.47 l-0.89,-0.19 M135.23,233.02 l-0.90,0.24 M135.30,234.06 l-0.91,-0.30 M135.57,235.13 l0.78,0.06 M135.34,235.96 l0.54,0.35 M134.14,236.41 l-0.60,-0.28 M134.66,237.43 l-0.46,-0.10 M134.46,238.16 l-0.83,-0.27 M134.14,238.84 l-0.99,0.06 M133.55,239.47 l-1.07,-0.14 M133.91,240.28 l0.15,0.00 M133.50,240.96 l0.67,0.08 M132.78,241.60 l1.06,-0.01 M133.11,242.43 l1.07,0.06 M132.71,243.17 l-0.03,0.14 M132.03,243.91 l-0.64,-0.11 M133.33,244.94 l0.52,0.11 M132.16,245.81 l0.51,0.07 M132.65,246.88 l-0.92,-0.04 M132.84,247.95 l0.78,-0.04 M132.29,248.96 l-0.45,0.06 M133.06,250.01 l-0.42,0.02 M132.99,250.95 l-0.98,-0.00 M131.78,251.73 l0.93,-0.03 M132.92,252.50 l-0.81,0.02" stroke="#520000" stroke-width="0.8" stroke-linecap="round" fill="none"/>
<path d="M202.20,207.80 C200.17,208.33 193.95,209.93 190.00,211.00 C186.05,212.07 182.17,213.12 178.50,214.20 C174.83,215.28 171.07,216.48 168.00,217.50 C164.93,218.52 162.68,219.25 160.10,220.30 C157.52,221.35 154.68,222.63 152.50,223.80 C150.32,224.97 148.92,225.85 147.00,227.30 C145.08,228.75 142.70,230.55 141.00,232.50 C139.30,234.45 137.87,236.75 136.80,239.00 C135.73,241.25 135.10,243.67 134.60,246.00 C134.10,248.33 133.93,251.83 133.80,253.00" fill="none" stroke="#520000" stroke-width="1.7" stroke-linejoin="round" stroke-linecap="round" />
<path d="M149.79,225.66 l-0.06,-0.79 M149.34,226.09 l0.46,-0.04 M148.86,226.47 l0.50,0.63 M148.52,227.07 l0.39,0.35 M147.75,227.13 l-0.35,0.39 M147.00,227.30 l0.44,0.28 M146.88,228.36 l0.34,0.87 M145.57,227.92 l-0.07,0.56 M145.21,228.73 l-0.61,0.70 M144.23,228.80 l0.10,0.02 M143.57,229.31 l0.16,-0.00 M143.09,230.02 l-0.72,0.27 M142.32,230.40 l-0.32,-0.21 M142.20,231.46 l0.24,0.71 M141.97,232.32 l0.71,-0.35 M141.30,232.75 l0.58,0.61 M140.07,232.76 l-0.65,-0.23 M140.29,233.92 l0.46,0.29 M139.60,234.38 l0.63,0.08 M139.41,235.19 l-0.86,-0.57 M138.60,235.60 l0.49,-0.54 M138.51,236.46 l0.28,0.58 M138.02,237.06 l0.05,0.01 M137.91,237.87 l-0.01,0.52 M137.47,238.49 l0.83,0.11 M137.47,239.30 l0.97,0.19 M136.89,239.84 l-0.18,-0.01 M135.83,240.23 l-0.33,-0.16 M135.38,240.87 l0.23,0.14 M134.97,241.53 l0.75,-0.14 M135.27,242.41 l0.98,-0.20 M134.68,243.01 l-0.28,-0.13 M134.61,243.76 l0.78,-0.00 M134.91,244.59 l-0.73,-0.14 M134.24,245.19 l-0.18,-0.18 M134.31,245.94 l-0.43,0.12 M135.20,246.85 l0.81,0.06 M134.96,247.59 l-0.75,-0.01 M134.03,248.30 l-0.28,-0.03 M134.16,249.14 l1.11,-0.05 M133.67,249.90 l-0.01,0.00 M133.74,250.68 l0.97,-0.03 M134.33,251.45 l0.95,0.05 M133.52,252.02 l0.66,-0.04 M133.08,252.51 l0.01,0.04" stroke="#520000" stroke-width="0.8" stroke-linecap="round" fill="none"/>
<path d="M56.50,218.70 C57.58,218.82 60.58,219.17 63.00,219.40 C65.42,219.63 67.48,219.33 71.00,220.10 C74.52,220.87 79.73,222.27 84.10,224.00 C88.47,225.73 93.72,228.75 97.20,230.50 C100.68,232.25 102.87,233.18 105.00,234.50 C107.13,235.82 108.33,237.07 110.00,238.40 C111.67,239.73 113.42,241.15 115.00,242.50 C116.58,243.85 118.25,244.75 119.50,246.50 C120.75,248.25 122.00,251.92 122.50,253.00" fill="none" stroke="#2c0000" stroke-width="1.9" stroke-linejoin="round" stroke-linecap="round" />
<path d="M96.13,229.90 l-0.26,0.74 M97.09,230.73 l-0.20,-1.15 M98.55,230.31 l0.33,0.68 M99.33,231.07 l-0.09,-1.34 M100.44,231.02 l0.31,0.49 M100.65,232.66 l-0.24,-0.57 M101.59,232.70 l0.05,-0.08 M102.72,232.28 l-0.56,-0.81 M102.54,234.31 l-0.64,-1.30 M103.75,233.67 l-0.48,1.27 M104.41,234.02 l0.37,-0.76 M104.47,235.33 l0.48,0.22 M106.06,234.24 l-0.04,1.16 M106.66,234.63 l-0.58,0.03 M106.18,236.34 l-0.39,-0.64 M106.65,236.74 l0.03,-1.12 M108.38,235.61 l0.02,-0.11 M108.42,236.50 l0.72,-0.36 M108.85,236.91 l-0.68,-1.16 M108.69,238.03 l-0.67,-0.89 M108.92,238.73 l-0.41,0.97 M110.29,238.04 l0.25,-0.25 M109.81,239.66 l-0.17,-0.32 M111.11,239.09 l0.43,-1.07 M112.07,238.94 l-0.65,-0.50 M111.42,240.77 l0.49,-0.55 M112.52,240.46 l0.61,-0.29 M112.40,241.63 l-0.75,0.75 M113.35,241.49 l-0.81,1.05 M113.96,241.77 l-0.43,-1.05 M114.19,242.48 l0.10,0.60 M114.80,242.75 l0.42,-1.06 M114.90,243.63 l0.71,-0.06 M116.16,242.99 l0.38,0.60 M115.80,244.46 l0.45,0.39 M117.18,243.64 l-0.11,-0.25 M117.84,243.78 l0.66,-0.69 M117.24,245.39 l0.01,-0.63 M117.65,245.76 l-1.07,-0.10 M119.30,245.01 l0.71,-0.83 M119.39,245.79 l1.00,-0.48 M119.95,246.21 l-0.18,0.66 M119.39,247.34 l0.23,-0.12 M120.20,247.77 l0.34,-0.21 M121.48,248.07 l0.62,0.61 M121.71,248.91 l-0.01,0.17 M120.54,250.30 l0.81,-0.26 M122.10,250.54 l0.29,-0.05 M120.94,251.82 l-1.00,0.43 M123.09,251.68 l1.34,0.25 M121.53,252.95 l0.08,0.12" stroke="#2c0000" stroke-width="0.9" stroke-linecap="round" fill="none"/>
<path d="M56.50,218.70 C57.42,218.92 60.03,219.55 62.00,220.00 C63.97,220.45 65.07,220.52 68.30,221.40 C71.53,222.28 77.03,223.57 81.40,225.30 C85.77,227.03 91.07,230.10 94.50,231.80 C97.93,233.50 99.42,234.00 102.00,235.50 C104.58,237.00 107.75,239.30 110.00,240.80 C112.25,242.30 113.78,243.30 115.50,244.50 C117.22,245.70 118.97,246.58 120.30,248.00 C121.63,249.42 122.97,252.17 123.50,253.00" fill="none" stroke="#2c0000" stroke-width="1.9" stroke-linejoin="round" stroke-linecap="round" />
<path d="M95.95,231.28 l0.14,1.20 M96.05,233.34 l-0.46,1.33 M97.38,232.56 l0.51,-0.96 M97.86,233.45 l-0.24,1.24 M98.36,234.17 l-0.19,0.75 M99.27,233.95 l-0.07,-1.26 M99.61,234.91 l0.38,1.16 M100.41,234.98 l0.29,-1.00 M101.52,234.60 l-0.21,0.54 M102.44,234.77 l0.68,0.07 M102.69,236.13 l0.18,-0.71 M103.49,236.67 l0.82,-0.50 M104.49,236.95 l-0.78,0.38 M104.81,238.28 l0.04,-0.67 M106.44,237.69 l-0.80,0.53 M107.20,238.37 l0.83,0.01 M107.55,239.59 l0.14,-0.61 M108.34,240.12 l-0.74,-0.68 M109.87,239.48 l0.28,-0.19 M109.78,241.13 l0.52,0.77 M110.36,241.67 l-0.01,-0.75 M110.70,242.51 l0.32,0.83 M112.18,241.54 l0.48,0.68 M112.66,242.03 l-0.77,-0.00 M113.33,242.19 l0.47,-0.20 M113.27,243.41 l-0.77,-0.89 M114.11,243.26 l0.50,1.22 M114.93,243.15 l0.78,-1.11 M115.12,243.95 l-0.70,0.98 M115.21,244.92 l-0.86,1.11 M116.22,244.54 l0.53,1.13 M116.24,245.64 l0.78,0.44 M117.19,245.29 l0.21,-0.43 M117.95,245.23 l0.84,-0.56 M118.23,245.90 l-0.79,-0.95 M117.93,247.33 l0.53,-0.35 M118.56,247.40 l-0.62,-0.15 M120.11,246.46 l0.05,-0.28 M119.24,248.24 l0.67,-0.29 M119.64,248.57 l1.09,-0.17 M120.15,248.88 l-0.66,-0.84 M121.94,248.41 l1.11,0.74 M121.93,249.26 l-0.64,0.67 M122.15,249.95 l0.60,0.73 M121.98,250.85 l0.64,0.34 M122.88,251.09 l0.60,-0.74 M122.33,252.09 l-1.12,0.21 M122.24,252.78 l1.28,-0.39 M123.36,252.67 l-1.21,0.73" stroke="#2c0000" stroke-width="0.9" stroke-linecap="round" fill="none"/>
<path d="M202.20,223.30 C200.17,223.63 193.95,224.58 190.00,225.30 C186.05,226.02 181.83,226.90 178.50,227.60 C175.17,228.30 173.07,228.80 170.00,229.50 C166.93,230.20 163.10,230.88 160.10,231.80 C157.10,232.72 154.62,233.77 152.00,235.00 C149.38,236.23 146.48,237.87 144.40,239.20 C142.32,240.53 140.82,241.70 139.50,243.00 C138.18,244.30 137.28,245.33 136.50,247.00 C135.72,248.67 135.08,252.00 134.80,253.00" fill="none" stroke="#2c0000" stroke-width="1.9" stroke-linejoin="round" stroke-linecap="round" />
<path d="M199.45,223.99 l0.12,0.22 M198.17,223.96 l-0.21,0.97 M196.71,223.50 l-0.12,-0.97 M195.32,223.79 l-0.05,0.53 M194.06,225.01 l0.07,-0.85 M192.75,225.76 l0.16,-0.76 M191.34,225.63 l0.23,1.42 M189.98,225.19 l0.10,-1.44 M188.65,224.69 l-0.28,0.72 M187.78,226.65 l0.24,0.01 M186.31,225.53 l0.03,0.81 M185.24,226.40 l-0.07,-0.52 M183.91,225.92 l-0.21,-0.49 M183.02,227.51 l-0.21,0.63 M181.68,226.79 l0.08,-0.71 M180.73,227.81 l0.16,0.78 M179.68,228.13 l-0.24,-0.23 M178.58,227.97 l0.07,-1.47 M177.53,227.79 l0.17,-0.92 M176.56,227.67 l-0.32,1.21 M175.79,228.24 l-0.21,-1.01 M174.75,227.48 l0.31,0.63 M174.34,229.37 l0.21,-1.41 M173.32,228.55 l-0.30,0.39 M172.38,228.13 l0.04,0.73 M171.60,228.51 l-0.31,1.19 M170.85,229.09 l-0.08,0.86 M170.06,229.78 l0.24,0.90 M169.17,230.24 l-0.06,-0.45 M168.22,230.56 l0.31,0.53 M167.00,229.75 l0.20,0.58 M166.19,230.99 l-0.19,-0.13 M165.23,231.51 l0.27,0.32 M163.97,230.69 l-0.10,1.24 M163.16,231.75 l-0.14,0.28 M162.11,231.74 l0.15,-1.34 M161.14,231.93 l-0.06,0.43 M160.16,231.98 l-0.34,-1.45 M159.31,232.36 l0.30,-0.66 M158.57,232.98 l0.51,-1.16 M157.58,232.82 l-0.35,0.28 M156.40,232.18 l0.04,0.98 M156.31,234.27 l-0.06,-0.39 M154.76,232.78 l0.50,-0.34 M154.45,234.20 l-0.01,1.01 M153.76,234.72 l-0.03,-1.18 M153.15,235.42 l0.01,-0.84 M151.55,234.07 l0.40,1.05 M150.77,234.51 l-0.65,0.06 M150.86,236.66 l-0.60,0.32 M149.18,235.41 l-0.17,-0.87 M149.15,237.28 l-0.42,0.76 M148.10,237.25 l-0.52,-0.87 M147.57,238.10 l0.43,0.28 M146.45,237.90 l0.18,1.01 M146.03,238.84 l-0.36,-1.03 M145.59,239.65 l-0.10,-0.66 M144.95,240.05 l-0.57,1.00 M143.67,239.41 l-0.09,-0.31 M143.46,240.33 l0.14,-0.20 M142.77,240.50 l-0.29,0.14 M142.24,240.85 l0.89,-0.28 M141.68,241.13 l0.51,-0.63 M140.80,241.01 l0.08,0.77 M140.78,241.90 l0.80,0.87 M140.42,242.35 l0.85,0.14 M139.89,242.60 l0.98,-0.29 M140.15,243.65 l-0.51,-0.59 M139.10,243.37 l0.99,0.00 M138.96,243.94 l-1.02,0.77 M137.83,243.61 l-1.15,-0.46 M137.56,244.05 l0.73,-0.92 M137.81,244.87 l-1.13,-0.75 M138.13,245.66 l-0.74,-0.73 M138.06,246.15 l0.39,-0.40 M137.64,246.43 l-1.07,0.34 M136.12,246.21 l0.98,0.01 M135.65,246.64 l0.83,0.29 M136.26,247.54 l0.53,0.49 M136.72,248.37 l1.00,-0.39 M135.46,248.74 l-1.17,0.28 M135.04,249.39 l1.15,-0.01 M135.17,250.18 l0.42,-0.26 M135.18,250.91 l-0.24,-0.26 M135.99,251.78 l-1.48,-0.08 M135.24,252.21 l-0.89,0.18 M133.85,252.36 l-0.23,0.12" stroke="#2c0000" stroke-width="0.9" stroke-linecap="round" fill="none"/>
<path d="M202.20,223.30 C200.17,223.85 193.95,225.48 190.00,226.60 C186.05,227.72 181.83,228.97 178.50,230.00 C175.17,231.03 173.07,231.77 170.00,232.80 C166.93,233.83 162.93,235.13 160.10,236.20 C157.27,237.27 155.18,238.17 153.00,239.20 C150.82,240.23 148.68,241.43 147.00,242.40 C145.32,243.37 144.10,243.90 142.90,245.00 C141.70,246.10 140.55,247.67 139.80,249.00 C139.05,250.33 138.63,252.33 138.40,253.00" fill="none" stroke="#2c0000" stroke-width="1.9" stroke-linejoin="round" stroke-linecap="round" />
<path d="M199.26,223.48 l0.05,0.97 M198.03,223.86 l0.36,-0.94 M196.96,225.26 l-0.11,-1.43 M195.37,224.93 l-0.13,0.57 M194.28,226.56 l0.38,1.05 M192.52,225.63 l0.06,-0.03 M191.01,225.41 l0.31,0.82 M189.91,226.28 l0.40,1.48 M188.90,227.25 l0.33,0.43 M187.78,227.87 l-0.07,-0.25 M186.59,228.26 l-0.11,0.08 M185.43,228.75 l-0.38,0.77 M184.24,229.07 l0.35,-0.40 M182.62,227.90 l-0.25,0.30 M181.86,229.52 l0.44,-0.42 M180.56,229.23 l0.13,-0.42 M179.56,229.80 l-0.40,-0.68 M178.67,230.53 l-0.37,1.35 M177.51,230.24 l0.09,0.78 M176.93,231.51 l-0.26,1.44 M175.74,230.76 l-0.42,1.06 M175.16,231.76 l-0.10,-0.01 M174.05,231.10 l-0.31,0.96 M173.49,232.06 l0.20,1.33 M172.28,231.12 l-0.28,-0.62 M172.09,233.24 l-0.34,-0.71 M170.92,232.57 l-0.24,0.15 M170.19,233.37 l0.39,0.79 M169.38,234.08 l0.16,-0.72 M167.93,233.04 l-0.34,-0.61 M167.21,234.28 l-0.05,0.20 M165.80,233.53 l-0.02,0.70 M164.86,234.19 l-0.46,0.84 M163.65,234.05 l0.49,0.71 M163.10,235.74 l-0.25,-1.28 M161.74,235.03 l0.18,-1.09 M161.11,236.23 l0.28,-1.17 M160.00,235.93 l-0.21,-0.47 M158.89,235.53 l0.03,-0.96 M158.32,236.42 l-0.41,0.19 M157.54,236.67 l-0.08,0.56 M157.25,238.00 l-0.15,1.21 M155.95,236.88 l0.43,1.35 M155.98,238.80 l-0.53,0.45 M155.28,239.02 l0.60,1.30 M154.13,238.21 l-0.17,-0.54 M153.43,238.42 l0.57,-0.24 M153.13,239.47 l-0.42,-0.88 M151.96,238.74 l0.60,-1.00 M151.28,239.03 l-0.62,1.09 M151.36,240.74 l0.56,1.28 M150.07,239.82 l-0.45,-0.35 M149.47,240.20 l-0.19,0.58 M149.64,241.92 l0.60,-0.68 M148.94,242.04 l0.27,0.21 M148.58,242.71 l0.37,0.59 M147.28,241.69 l0.20,0.49 M146.50,241.51 l-0.01,-0.93 M146.38,242.45 l0.70,0.24 M146.11,243.06 l-0.41,0.42 M145.38,242.79 l-0.06,0.77 M144.78,242.73 l0.63,-0.84 M145.15,244.27 l0.80,0.79 M144.06,243.40 l-0.80,1.29 M144.01,244.15 l0.02,-0.73 M144.05,244.95 l0.01,0.38 M142.78,244.14 l0.48,-1.02 M143.23,245.34 l0.61,-0.43 M142.54,245.35 l0.87,-0.28 M142.88,246.33 l-0.66,-0.39 M141.36,245.69 l-0.30,0.30 M141.68,246.63 l0.26,-0.73 M141.91,247.45 l-0.96,0.88 M141.40,247.70 l0.60,-0.70 M140.57,247.75 l0.31,-0.64 M140.79,248.49 l0.10,-0.04 M139.55,248.31 l-0.67,-0.22 M140.10,249.15 l0.47,0.50 M138.89,249.11 l-0.46,-0.29 M140.07,250.13 l0.18,-0.29 M139.05,250.27 l1.09,0.05 M138.24,250.54 l0.77,0.30 M139.33,251.37 l-0.60,-0.29 M139.51,251.89 l1.02,0.22 M139.03,252.20 l-0.07,0.29 M138.93,252.56 l0.92,-0.39 M138.00,252.61 l1.17,-0.42" stroke="#2c0000" stroke-width="0.9" stroke-linecap="round" fill="none"/>
<path d="M38.7,254 V74.3 H219.4" fill="none" stroke="#000" stroke-width="1.3"/>
<line x1="219.40" y1="74.30" x2="219.40" y2="254.00" stroke="#222" stroke-width="1.0" />
<line x1="129.40" y1="74.30" x2="129.40" y2="254.00" stroke="#000" stroke-width="1.1" />
<line x1="38.70" y1="85.88" x2="40.90" y2="85.88" stroke="#000" stroke-width="1.0" />
<line x1="38.70" y1="79.13" x2="40.00" y2="79.13" stroke="#000" stroke-width="0.8" />
<line x1="38.70" y1="108.30" x2="40.90" y2="108.30" stroke="#000" stroke-width="1.0" />
<line x1="38.70" y1="101.55" x2="40.00" y2="101.55" stroke="#000" stroke-width="0.8" />
<line x1="38.70" y1="97.60" x2="40.00" y2="97.60" stroke="#000" stroke-width="0.8" />
<line x1="38.70" y1="94.80" x2="40.00" y2="94.80" stroke="#000" stroke-width="0.8" />
<line x1="38.70" y1="92.63" x2="40.00" y2="92.63" stroke="#000" stroke-width="0.8" />
<line x1="38.70" y1="90.85" x2="40.00" y2="90.85" stroke="#000" stroke-width="0.8" />
<line x1="38.70" y1="89.35" x2="40.00" y2="89.35" stroke="#000" stroke-width="0.8" />
<line x1="38.70" y1="88.05" x2="40.00" y2="88.05" stroke="#000" stroke-width="0.8" />
<line x1="38.70" y1="86.91" x2="40.00" y2="86.91" stroke="#000" stroke-width="0.8" />
<line x1="38.70" y1="130.72" x2="40.90" y2="130.72" stroke="#000" stroke-width="1.0" />
<line x1="38.70" y1="123.97" x2="40.00" y2="123.97" stroke="#000" stroke-width="0.8" />
<line x1="38.70" y1="120.02" x2="40.00" y2="120.02" stroke="#000" stroke-width="0.8" />
<line x1="38.70" y1="117.22" x2="40.00" y2="117.22" stroke="#000" stroke-width="0.8" />
<line x1="38.70" y1="115.05" x2="40.00" y2="115.05" stroke="#000" stroke-width="0.8" />
<line x1="38.70" y1="113.27" x2="40.00" y2="113.27" stroke="#000" stroke-width="0.8" />
<line x1="38.70" y1="111.77" x2="40.00" y2="111.77" stroke="#000" stroke-width="0.8" />
<line x1="38.70" y1="110.47" x2="40.00" y2="110.47" stroke="#000" stroke-width="0.8" />
<line x1="38.70" y1="109.33" x2="40.00" y2="109.33" stroke="#000" stroke-width="0.8" />
<line x1="38.70" y1="153.14" x2="40.90" y2="153.14" stroke="#000" stroke-width="1.0" />
<line x1="38.70" y1="146.39" x2="40.00" y2="146.39" stroke="#000" stroke-width="0.8" />
<line x1="38.70" y1="142.44" x2="40.00" y2="142.44" stroke="#000" stroke-width="0.8" />
<line x1="38.70" y1="139.64" x2="40.00" y2="139.64" stroke="#000" stroke-width="0.8" />
<line x1="38.70" y1="137.47" x2="40.00" y2="137.47" stroke="#000" stroke-width="0.8" />
<line x1="38.70" y1="135.69" x2="40.00" y2="135.69" stroke="#000" stroke-width="0.8" />
<line x1="38.70" y1="134.19" x2="40.00" y2="134.19" stroke="#000" stroke-width="0.8" />
<line x1="38.70" y1="132.89" x2="40.00" y2="132.89" stroke="#000" stroke-width="0.8" />
<line x1="38.70" y1="131.75" x2="40.00" y2="131.75" stroke="#000" stroke-width="0.8" />
<line x1="38.70" y1="175.56" x2="40.90" y2="175.56" stroke="#000" stroke-width="1.0" />
<line x1="38.70" y1="168.81" x2="40.00" y2="168.81" stroke="#000" stroke-width="0.8" />
<line x1="38.70" y1="164.86" x2="40.00" y2="164.86" stroke="#000" stroke-width="0.8" />
<line x1="38.70" y1="162.06" x2="40.00" y2="162.06" stroke="#000" stroke-width="0.8" />
<line x1="38.70" y1="159.89" x2="40.00" y2="159.89" stroke="#000" stroke-width="0.8" />
<line x1="38.70" y1="158.11" x2="40.00" y2="158.11" stroke="#000" stroke-width="0.8" />
<line x1="38.70" y1="156.61" x2="40.00" y2="156.61" stroke="#000" stroke-width="0.8" />
<line x1="38.70" y1="155.31" x2="40.00" y2="155.31" stroke="#000" stroke-width="0.8" />
<line x1="38.70" y1="154.17" x2="40.00" y2="154.17" stroke="#000" stroke-width="0.8" />
<line x1="38.70" y1="197.98" x2="40.90" y2="197.98" stroke="#000" stroke-width="1.0" />
<line x1="38.70" y1="191.23" x2="40.00" y2="191.23" stroke="#000" stroke-width="0.8" />
<line x1="38.70" y1="187.28" x2="40.00" y2="187.28" stroke="#000" stroke-width="0.8" />
<line x1="38.70" y1="184.48" x2="40.00" y2="184.48" stroke="#000" stroke-width="0.8" />
<line x1="38.70" y1="182.31" x2="40.00" y2="182.31" stroke="#000" stroke-width="0.8" />
<line x1="38.70" y1="180.53" x2="40.00" y2="180.53" stroke="#000" stroke-width="0.8" />
<line x1="38.70" y1="179.03" x2="40.00" y2="179.03" stroke="#000" stroke-width="0.8" />
<line x1="38.70" y1="177.73" x2="40.00" y2="177.73" stroke="#000" stroke-width="0.8" />
<line x1="38.70" y1="176.59" x2="40.00" y2="176.59" stroke="#000" stroke-width="0.8" />
<line x1="38.70" y1="220.40" x2="40.90" y2="220.40" stroke="#000" stroke-width="1.0" />
<line x1="38.70" y1="213.65" x2="40.00" y2="213.65" stroke="#000" stroke-width="0.8" />
<line x1="38.70" y1="209.70" x2="40.00" y2="209.70" stroke="#000" stroke-width="0.8" />
<line x1="38.70" y1="206.90" x2="40.00" y2="206.90" stroke="#000" stroke-width="0.8" />
<line x1="38.70" y1="204.73" x2="40.00" y2="204.73" stroke="#000" stroke-width="0.8" />
<line x1="38.70" y1="202.95" x2="40.00" y2="202.95" stroke="#000" stroke-width="0.8" />
<line x1="38.70" y1="201.45" x2="40.00" y2="201.45" stroke="#000" stroke-width="0.8" />
<line x1="38.70" y1="200.15" x2="40.00" y2="200.15" stroke="#000" stroke-width="0.8" />
<line x1="38.70" y1="199.01" x2="40.00" y2="199.01" stroke="#000" stroke-width="0.8" />
<line x1="38.70" y1="242.82" x2="40.90" y2="242.82" stroke="#000" stroke-width="1.0" />
<line x1="38.70" y1="236.07" x2="40.00" y2="236.07" stroke="#000" stroke-width="0.8" />
<line x1="38.70" y1="232.12" x2="40.00" y2="232.12" stroke="#000" stroke-width="0.8" />
<line x1="38.70" y1="229.32" x2="40.00" y2="229.32" stroke="#000" stroke-width="0.8" />
<line x1="38.70" y1="227.15" x2="40.00" y2="227.15" stroke="#000" stroke-width="0.8" />
<line x1="38.70" y1="225.37" x2="40.00" y2="225.37" stroke="#000" stroke-width="0.8" />
<line x1="38.70" y1="223.87" x2="40.00" y2="223.87" stroke="#000" stroke-width="0.8" />
<line x1="38.70" y1="222.57" x2="40.00" y2="222.57" stroke="#000" stroke-width="0.8" />
<line x1="38.70" y1="221.43" x2="40.00" y2="221.43" stroke="#000" stroke-width="0.8" />
<text transform="translate(35.80,111.80) scale(0.86,1)" font-size="10.2" text-anchor="end" font-weight="bold" fill="#000" stroke="#000" stroke-width="0.12" >10<tspan font-size="6.8" dy="-4.0">-6</tspan></text>
<text transform="translate(35.80,156.64) scale(0.86,1)" font-size="10.2" text-anchor="end" font-weight="bold" fill="#000" stroke="#000" stroke-width="0.12" >10<tspan font-size="6.8" dy="-4.0">-8</tspan></text>
<text transform="translate(35.80,201.48) scale(0.86,1)" font-size="10.2" text-anchor="end" font-weight="bold" fill="#000" stroke="#000" stroke-width="0.12" >10<tspan font-size="6.8" dy="-4.0">-10</tspan></text>
<text transform="translate(35.80,246.32) scale(0.86,1)" font-size="10.2" text-anchor="end" font-weight="bold" fill="#000" stroke="#000" stroke-width="0.12" >10<tspan font-size="6.8" dy="-4.0">-12</tspan></text>
<text transform="translate(17.40,181.60) rotate(-90) scale(0.9,1)" font-size="10.0" text-anchor="middle" font-weight="bold" fill="#000" stroke="#000" stroke-width="0.12" >Current (A)</text>
<rect x="43.5" y="78.7" width="41.6" height="10.1" fill="#b7b9bb"/>
<rect x="43.5" y="88.8" width="41.6" height="14.2" fill="#fda511"/>
<rect x="43.5" y="103.0" width="41.6" height="10.6" fill="#3a3a3a"/>
<text transform="translate(64.30,86.30) scale(0.86,1)" font-size="7.6" text-anchor="middle" font-weight="bold" fill="#ececec" stroke="#ececec" stroke-width="0.12" >Pt</text>
<text transform="translate(64.30,98.90) scale(0.86,1)" font-size="8.6" text-anchor="middle" font-weight="bold" fill="#ffffff" stroke="#ffffff" stroke-width="0.12" >CIPS</text>
<text transform="translate(64.30,110.60) scale(0.86,1)" font-size="7.6" text-anchor="middle" font-weight="bold" fill="#ececec" stroke="#ececec" stroke-width="0.12" >In</text>
<path d="M85.1,83.9 H121.9 V92" fill="none" stroke="#000" stroke-width="1.1"/>
<line x1="119.60" y1="92.00" x2="124.20" y2="92.00" stroke="#000" stroke-width="1.1" />
<line x1="115.90" y1="94.30" x2="127.00" y2="94.30" stroke="#000" stroke-width="1.1" />
<path d="M121.9,94.3 V108.1 H110.1 M96.3,108.1 H85.1" fill="none" stroke="#000" stroke-width="1.1"/>
<circle cx="103.2" cy="108.1" r="6.8" fill="#fff" stroke="#000" stroke-width="1.1"/>
<text transform="translate(103.20,110.90) scale(0.86,1)" font-size="7.6" text-anchor="middle" font-weight="bold" fill="#000" stroke="#000" stroke-width="0.12" >A</text>
<text transform="translate(210.00,90.90) scale(0.86,1)" font-size="6.8" text-anchor="middle" font-weight="bold" fill="#000" stroke="#000" stroke-width="0.12" >300 K</text>
<text transform="translate(209.30,240.00) scale(0.86,1)" font-size="6.8" text-anchor="middle" font-weight="bold" fill="#000" stroke="#000" stroke-width="0.12" >220 K</text>
<defs><linearGradient id="tg" x1="0" y1="0" x2="0" y2="1"><stop offset="0" stop-color="#ff0000"/><stop offset="0.5" stop-color="#b00000"/><stop offset="1" stop-color="#300000"/></linearGradient></defs>
<path d="M207.5,93.8 H212.2 V201.4 H214.8 L209.85,222.9 L204.9,201.4 H207.5 Z" fill="url(#tg)"/>
<line x1="158.80" y1="97.90" x2="147.97" y2="103.68" stroke="#222" stroke-width="1.0" /><polygon points="144.00,105.80 147.03,101.92 148.91,105.45" fill="#222"/>
<text transform="translate(150.90,96.60) scale(0.86,1)" font-size="7.0" text-anchor="middle" font-weight="bold" fill="#000" stroke="#000" stroke-width="0.12" >2</text>
<line x1="170.80" y1="134.60" x2="175.22" y2="121.95" stroke="#222" stroke-width="1.0" /><polygon points="176.70,117.70 177.11,122.61 173.33,121.29" fill="#222"/>
<text transform="translate(168.60,123.60) scale(0.86,1)" font-size="7.0" text-anchor="middle" font-weight="bold" fill="#000" stroke="#000" stroke-width="0.12" >1</text>
<line x1="100.10" y1="125.90" x2="111.63" y2="134.36" stroke="#222" stroke-width="1.0" /><polygon points="115.50,137.20 110.39,136.05 112.87,132.67" fill="#222"/>
<text transform="translate(111.10,127.70) scale(0.86,1)" font-size="7.0" text-anchor="middle" font-weight="bold" fill="#000" stroke="#000" stroke-width="0.12" >4</text>
<line x1="103.80" y1="160.70" x2="90.00" y2="160.11" stroke="#333" stroke-width="1.0" /><polygon points="85.20,159.90 90.08,158.11 89.91,162.10" fill="#333"/>
<text transform="translate(95.70,166.50) scale(0.86,1)" font-size="7.0" text-anchor="middle" font-weight="bold" fill="#000" stroke="#000" stroke-width="0.12" >3</text>
<text transform="translate(233.90,85.50) scale(0.95,1)" font-size="14.5" text-anchor="start" font-weight="bold" fill="#000" stroke="#000" stroke-width="0.12" >d</text>
<rect x="264.8" y="72.7" width="90.8" height="31.2" fill="#fe7979"/>
<rect x="355.6" y="72.7" width="91.1" height="31.2" fill="#7b7bff"/>
<text transform="translate(310.80,83.90) scale(0.87,1)" font-size="10.0" text-anchor="middle" font-weight="bold" fill="#fff" stroke="#fff" stroke-width="0.12" >Upward-Diode (UD)</text>
<text transform="translate(401.60,83.90) scale(0.87,1)" font-size="10.0" text-anchor="middle" font-weight="bold" fill="#fff" stroke="#fff" stroke-width="0.12" >Downward-Diode (UD)</text>
<line x1="287.00" y1="95.80" x2="333.00" y2="95.80" stroke="#fff" stroke-width="1.1" />
<line x1="303.50" y1="89.00" x2="303.50" y2="103.40" stroke="#fff" stroke-width="1.2" />
<polygon points="303.9,95.9 317.5,89.3 317.5,102.6" fill="#fe7979" stroke="#fff" stroke-width="1.1"/>
<text transform="translate(295.20,93.60) scale(0.86,1)" font-size="6.6" text-anchor="middle" font-weight="bold" fill="#fff" stroke="#fff" stroke-width="0.12" >Pt</text>
<text transform="translate(325.60,93.60) scale(0.86,1)" font-size="6.6" text-anchor="middle" font-weight="bold" fill="#fff" stroke="#fff" stroke-width="0.12" >In</text>
<line x1="378.80" y1="96.40" x2="424.60" y2="96.40" stroke="#fff" stroke-width="1.1" />
<line x1="408.70" y1="89.00" x2="408.70" y2="103.40" stroke="#fff" stroke-width="1.2" />
<polygon points="408.2,96.3 393.9,89.5 393.9,102.9" fill="#7b7bff" stroke="#fff" stroke-width="1.1"/>
<text transform="translate(385.60,93.60) scale(0.86,1)" font-size="6.6" text-anchor="middle" font-weight="bold" fill="#fff" stroke="#fff" stroke-width="0.12" >Pt</text>
<text transform="translate(416.60,93.60) scale(0.86,1)" font-size="6.6" text-anchor="middle" font-weight="bold" fill="#fff" stroke="#fff" stroke-width="0.12" >In</text>
<line x1="310.70" y1="105.00" x2="310.70" y2="254.00" stroke="#666" stroke-width="0.8" stroke-dasharray="1.2,1.6"/>
<line x1="401.00" y1="105.00" x2="401.00" y2="254.00" stroke="#666" stroke-width="0.8" stroke-dasharray="1.2,1.6"/>
<line x1="265.50" y1="150.80" x2="446.60" y2="150.80" stroke="#666" stroke-width="0.8" stroke-dasharray="1.2,1.6"/>
<line x1="265.50" y1="242.30" x2="446.60" y2="242.30" stroke="#666" stroke-width="0.8" stroke-dasharray="1.2,1.6"/>
<path d="M274.00,151.20 C278.33,151.20 292.33,151.23 300.00,151.20 C307.67,151.17 315.82,151.08 320.00,151.00 C324.18,150.92 323.60,150.93 325.10,150.70 C326.60,150.47 327.70,150.17 329.00,149.60 C330.30,149.03 331.73,148.18 332.90,147.30 C334.07,146.42 335.08,145.40 336.00,144.30 C336.92,143.20 337.25,142.60 338.40,140.70 C339.55,138.80 341.42,135.38 342.90,132.90 C344.38,130.42 346.57,126.98 347.30,125.80" fill="none" stroke="#ff0000" stroke-width="1.4" stroke-linejoin="round" stroke-linecap="round" />
<line x1="274.00" y1="151.40" x2="326.00" y2="151.20" stroke="#e00000" stroke-width="2.0" />
<path d="M274.00,151.20 C278.33,151.18 290.67,151.13 300.00,151.10 C309.33,151.07 323.17,151.03 330.00,151.00 C336.83,150.97 338.67,151.10 341.00,150.90 C343.33,150.70 343.17,150.38 344.00,149.80 C344.83,149.22 345.37,148.07 346.00,147.40 C346.63,146.73 347.50,146.07 347.80,145.80" fill="none" stroke="#2a0000" stroke-width="1.8" stroke-linejoin="round" stroke-linecap="butt" stroke-dasharray="1.4,0.9"/>
<path d="M326.00,151.00 C328.50,150.98 338.00,151.10 341.00,150.90 C344.00,150.70 343.17,150.38 344.00,149.80 C344.83,149.22 345.37,148.07 346.00,147.40 C346.63,146.73 347.50,146.07 347.80,145.80" fill="none" stroke="#3a0000" stroke-width="1.7" stroke-linejoin="round" stroke-linecap="round" />
<path d="M364.50,198.00 C364.75,197.17 365.08,196.00 366.00,193.00 C366.92,190.00 368.37,184.58 370.00,180.00 C371.63,175.42 374.13,169.08 375.80,165.50 C377.47,161.92 378.68,160.48 380.00,158.50 C381.32,156.52 382.62,154.77 383.70,153.60 C384.78,152.43 385.50,151.95 386.50,151.50 C387.50,151.05 389.17,151.00 389.70,150.90" fill="none" stroke="#1010ff" stroke-width="1.7" stroke-linejoin="round" stroke-linecap="round" />
<line x1="364.00" y1="150.50" x2="438.60" y2="150.40" stroke="#16166a" stroke-width="2.1" stroke-linecap="round"/>
<path d="M274.00,242.60 C278.33,242.60 294.00,242.62 300.00,242.60 C306.00,242.58 307.83,242.57 310.00,242.50 C312.17,242.43 312.00,242.70 313.00,242.20 C314.00,241.70 314.65,241.05 316.00,239.50 C317.35,237.95 319.43,235.23 321.10,232.90 C322.77,230.57 324.08,228.60 326.00,225.50 C327.92,222.40 330.60,217.72 332.60,214.30 C334.60,210.88 336.33,207.87 338.00,205.00 C339.67,202.13 341.83,198.42 342.60,197.10" fill="none" stroke="#ff0000" stroke-width="1.4" stroke-linejoin="round" stroke-linecap="round" />
<line x1="274.00" y1="242.90" x2="312.00" y2="242.80" stroke="#e00000" stroke-width="2.0" />
<path d="M274.00,242.60 C278.33,242.60 294.00,242.62 300.00,242.60 C306.00,242.58 307.83,242.58 310.00,242.50 C312.17,242.42 311.83,242.60 313.00,242.10 C314.17,241.60 315.65,240.57 317.00,239.50 C318.35,238.43 319.27,237.87 321.10,235.70 C322.93,233.53 325.62,229.60 328.00,226.50 C330.38,223.40 333.07,220.05 335.40,217.10 C337.73,214.15 339.85,211.42 342.00,208.80 C344.15,206.18 347.25,202.63 348.30,201.40" fill="none" stroke="#2a0000" stroke-width="1.8" stroke-linejoin="round" stroke-linecap="butt" stroke-dasharray="1.4,0.9"/>
<path d="M313.00,242.10 C313.67,241.67 315.65,240.57 317.00,239.50 C318.35,238.43 319.27,237.87 321.10,235.70 C322.93,233.53 325.62,229.60 328.00,226.50 C330.38,223.40 333.07,220.05 335.40,217.10 C337.73,214.15 339.85,211.42 342.00,208.80 C344.15,206.18 347.25,202.63 348.30,201.40" fill="none" stroke="#3a0000" stroke-width="1.7" stroke-linejoin="round" stroke-linecap="round" />
<path d="M371.00,254.50 C371.68,254.00 373.60,252.65 375.10,251.50 C376.60,250.35 378.33,248.77 380.00,247.60 C381.67,246.43 383.27,245.37 385.10,244.50 C386.93,243.63 388.93,242.88 391.00,242.40 C393.07,241.92 394.33,241.75 397.50,241.60 C400.67,241.45 405.42,241.52 410.00,241.50 C414.58,241.48 420.18,241.53 425.00,241.50 C429.82,241.47 436.58,241.33 438.90,241.30" fill="none" stroke="#1010ff" stroke-width="2.4" stroke-linejoin="round" stroke-linecap="round" />
<path d="M365.80,198.00 C366.08,196.67 366.90,193.00 367.50,190.00 C368.10,187.00 369.08,181.67 369.40,180.00" fill="none" stroke="#1010ff" stroke-width="1.7" stroke-linejoin="round" stroke-linecap="round" />
<line x1="350.70" y1="116.20" x2="350.70" y2="142.40" stroke="#111" stroke-width="0.9" /><polygon points="350.70,148.40 348.70,142.40 352.70,142.40" fill="#111"/>
<line x1="363.90" y1="177.40" x2="363.90" y2="160.60" stroke="#111" stroke-width="0.9" /><polygon points="363.90,155.60 365.70,160.60 362.10,160.60" fill="#111"/>
<line x1="348.30" y1="198.60" x2="348.30" y2="209.90" stroke="#111" stroke-width="0.9" /><polygon points="348.30,214.90 346.50,209.90 350.10,209.90" fill="#111"/>
<text transform="translate(324.30,117.30) scale(0.86,1)" font-size="7.0" text-anchor="middle" font-weight="bold" fill="#000" stroke="#000" stroke-width="0.12" >decay in 30 mins</text>
<text transform="translate(340.40,187.90) scale(0.86,1)" font-size="6.8" text-anchor="middle" font-weight="bold" fill="#000" stroke="#000" stroke-width="0.12" >300 K</text>
<text transform="translate(431.00,187.40) scale(0.86,1)" font-size="6.6" text-anchor="middle" font-weight="bold" fill="#000" stroke="#000" stroke-width="0.12" >300 K</text>
<path d="M265.5,254 V105.0 H446.6 V254" fill="none" stroke="#000" stroke-width="1.3"/>
<line x1="355.90" y1="105.00" x2="355.90" y2="254.00" stroke="#000" stroke-width="1.3" />
<line x1="265.50" y1="196.50" x2="446.60" y2="196.50" stroke="#000" stroke-width="1.3" />
<line x1="265.50" y1="110.40" x2="267.70" y2="110.40" stroke="#000" stroke-width="1.0" />
<line x1="355.90" y1="110.40" x2="358.10" y2="110.40" stroke="#000" stroke-width="1.0" />
<line x1="355.90" y1="110.40" x2="353.70" y2="110.40" stroke="#000" stroke-width="1.0" />
<text transform="translate(263.50,113.90) scale(0.86,1)" font-size="10.0" text-anchor="end" font-weight="bold" fill="#000" stroke="#000" stroke-width="0.12" >4</text>
<line x1="265.50" y1="130.60" x2="267.70" y2="130.60" stroke="#000" stroke-width="1.0" />
<line x1="355.90" y1="130.60" x2="358.10" y2="130.60" stroke="#000" stroke-width="1.0" />
<line x1="355.90" y1="130.60" x2="353.70" y2="130.60" stroke="#000" stroke-width="1.0" />
<text transform="translate(263.50,134.10) scale(0.86,1)" font-size="10.0" text-anchor="end" font-weight="bold" fill="#000" stroke="#000" stroke-width="0.12" >2</text>
<line x1="265.50" y1="151.00" x2="267.70" y2="151.00" stroke="#000" stroke-width="1.0" />
<line x1="355.90" y1="151.00" x2="358.10" y2="151.00" stroke="#000" stroke-width="1.0" />
<line x1="355.90" y1="151.00" x2="353.70" y2="151.00" stroke="#000" stroke-width="1.0" />
<text transform="translate(263.50,154.50) scale(0.86,1)" font-size="10.0" text-anchor="end" font-weight="bold" fill="#000" stroke="#000" stroke-width="0.12" >0</text>
<line x1="265.50" y1="171.00" x2="267.70" y2="171.00" stroke="#000" stroke-width="1.0" />
<line x1="355.90" y1="171.00" x2="358.10" y2="171.00" stroke="#000" stroke-width="1.0" />
<line x1="355.90" y1="171.00" x2="353.70" y2="171.00" stroke="#000" stroke-width="1.0" />
<text transform="translate(263.50,174.50) scale(0.86,1)" font-size="10.0" text-anchor="end" font-weight="bold" fill="#000" stroke="#000" stroke-width="0.12" >-2</text>
<line x1="265.50" y1="191.40" x2="267.70" y2="191.40" stroke="#000" stroke-width="1.0" />
<line x1="355.90" y1="191.40" x2="358.10" y2="191.40" stroke="#000" stroke-width="1.0" />
<line x1="355.90" y1="191.40" x2="353.70" y2="191.40" stroke="#000" stroke-width="1.0" />
<text transform="translate(263.50,194.90) scale(0.86,1)" font-size="10.0" text-anchor="end" font-weight="bold" fill="#000" stroke="#000" stroke-width="0.12" >-4</text>
<line x1="265.50" y1="201.00" x2="267.70" y2="201.00" stroke="#000" stroke-width="1.0" />
<line x1="355.90" y1="201.00" x2="358.10" y2="201.00" stroke="#000" stroke-width="1.0" />
<line x1="355.90" y1="201.00" x2="353.70" y2="201.00" stroke="#000" stroke-width="1.0" />
<text transform="translate(263.50,204.50) scale(0.86,1)" font-size="10.0" text-anchor="end" font-weight="bold" fill="#000" stroke="#000" stroke-width="0.12" >4</text>
<line x1="265.50" y1="221.70" x2="267.70" y2="221.70" stroke="#000" stroke-width="1.0" />
<line x1="355.90" y1="221.70" x2="358.10" y2="221.70" stroke="#000" stroke-width="1.0" />
<line x1="355.90" y1="221.70" x2="353.70" y2="221.70" stroke="#000" stroke-width="1.0" />
<text transform="translate(263.50,225.20) scale(0.86,1)" font-size="10.0" text-anchor="end" font-weight="bold" fill="#000" stroke="#000" stroke-width="0.12" >2</text>
<line x1="265.50" y1="242.30" x2="267.70" y2="242.30" stroke="#000" stroke-width="1.0" />
<line x1="355.90" y1="242.30" x2="358.10" y2="242.30" stroke="#000" stroke-width="1.0" />
<line x1="355.90" y1="242.30" x2="353.70" y2="242.30" stroke="#000" stroke-width="1.0" />
<text transform="translate(263.50,245.80) scale(0.86,1)" font-size="10.0" text-anchor="end" font-weight="bold" fill="#000" stroke="#000" stroke-width="0.12" >0</text>
<line x1="281.10" y1="196.50" x2="281.10" y2="194.50" stroke="#000" stroke-width="0.9" />
<line x1="295.90" y1="196.50" x2="295.90" y2="194.50" stroke="#000" stroke-width="0.9" />
<line x1="325.40" y1="196.50" x2="325.40" y2="194.50" stroke="#000" stroke-width="0.9" />
<line x1="340.60" y1="196.50" x2="340.60" y2="194.50" stroke="#000" stroke-width="0.9" />
<line x1="370.90" y1="196.50" x2="370.90" y2="194.50" stroke="#000" stroke-width="0.9" />
<line x1="386.60" y1="196.50" x2="386.60" y2="194.50" stroke="#000" stroke-width="0.9" />
<line x1="416.60" y1="196.50" x2="416.60" y2="194.50" stroke="#000" stroke-width="0.9" />
<line x1="432.30" y1="196.50" x2="432.30" y2="194.50" stroke="#000" stroke-width="0.9" />
<text transform="translate(252.40,150.90) rotate(-90) scale(0.86,1)" font-size="10.2" text-anchor="middle" font-weight="bold" fill="#000" stroke="#000" stroke-width="0.12" >Current (μA)</text>
<text transform="translate(252.00,241.00) rotate(-90) scale(0.86,1)" font-size="10.2" text-anchor="middle" font-weight="bold" fill="#000" stroke="#000" stroke-width="0.12" >Current (nA)</text>
</svg>
</body></html>
